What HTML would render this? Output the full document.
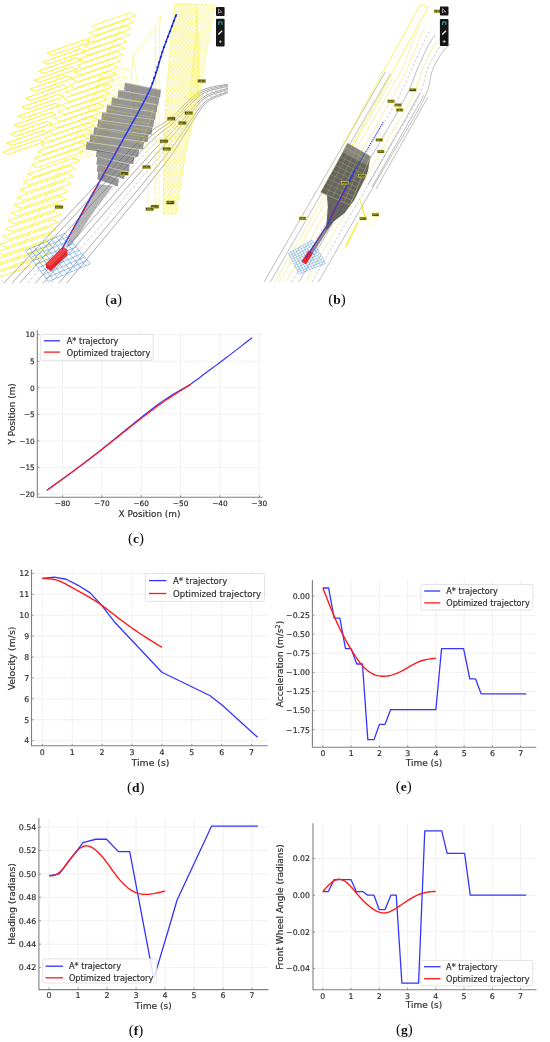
<!DOCTYPE html>
<html><head><meta charset="utf-8"><title>Trajectory figure</title>
<style>html,body{margin:0;padding:0;background:#fff;}svg{display:block;}</style></head>
<body><svg width="550" height="1042" viewBox="0 0 550 1042">
<rect width="550" height="1042" fill="#ffffff"/>
<g id="pa"><path d="M47 53 L85 39.7 L90 42.1 L52 55.4Z" fill="none" stroke="#f7ee00" stroke-width="0.9" opacity="0.9" /><path d="M42.8 62 L80.6 48.8 L85.6 51.2 L47.8 64.4Z" fill="none" stroke="#f7ee00" stroke-width="0.9" opacity="0.9" /><path d="M38.6 71 L76.2 57.8 L81.2 60.2 L43.6 73.4Z" fill="none" stroke="#f7ee00" stroke-width="0.9" opacity="0.9" /><path d="M34.4 80 L71.8 66.9 L76.8 69.3 L39.4 82.4Z" fill="none" stroke="#f7ee00" stroke-width="0.9" opacity="0.9" /><path d="M30.1 89 L67.4 76 L72.4 78.4 L35.1 91.4Z" fill="none" stroke="#f7ee00" stroke-width="0.9" opacity="0.9" /><path d="M25.9 98 L63 85 L68 87.4 L30.9 100.4Z" fill="none" stroke="#f7ee00" stroke-width="0.9" opacity="0.9" /><path d="M22 107 L58.9 94.1 L63.9 96.5 L27 109.4Z" fill="none" stroke="#f7ee00" stroke-width="0.9" opacity="0.9" /><path d="M18.2 116 L55 103.1 L60 105.5 L23.2 118.4Z" fill="none" stroke="#f7ee00" stroke-width="0.9" opacity="0.9" /><path d="M14.4 125 L51 112.2 L56 114.6 L19.4 127.4Z" fill="none" stroke="#f7ee00" stroke-width="0.9" opacity="0.9" /><path d="M10.6 134 L47 121.3 L52 123.7 L15.6 136.4Z" fill="none" stroke="#f7ee00" stroke-width="0.9" opacity="0.9" /><path d="M6.8 143 L43 130.3 L48 132.7 L11.8 145.4Z" fill="none" stroke="#f7ee00" stroke-width="0.9" opacity="0.9" /><path d="M3 152 L39 139.4 L44 141.8 L8 154.4Z" fill="none" stroke="#f7ee00" stroke-width="0.9" opacity="0.9" /><path d="M92 26 L130 12.7 L136 15.7 L98 29Z" fill="none" stroke="#f7ee00" stroke-width="0.8" opacity="0.8" /><path d="M89.4 32.6 L127.8 19.2 L133.8 22.2 L95.4 35.6Z" fill="none" stroke="#f7ee00" stroke-width="0.8" opacity="0.8" /><path d="M86.8 39.2 L125.6 25.6 L131.6 28.6 L92.8 42.2Z" fill="none" stroke="#f7ee00" stroke-width="0.8" opacity="0.8" /><path d="M84.3 45.8 L123.4 32.1 L129.4 35.1 L90.3 48.8Z" fill="none" stroke="#f7ee00" stroke-width="0.8" opacity="0.8" /><path d="M81.7 52.4 L121.2 38.6 L127.2 41.6 L87.7 55.4Z" fill="none" stroke="#f7ee00" stroke-width="0.8" opacity="0.8" /><path d="M79.1 59 L119 45.1 L125 48.1 L85.1 62Z" fill="none" stroke="#f7ee00" stroke-width="0.8" opacity="0.8" /><path d="M76.5 65.6 L116.8 51.5 L122.8 54.5 L82.5 68.6Z" fill="none" stroke="#f7ee00" stroke-width="0.8" opacity="0.8" /><path d="M74 72.2 L114.6 58 L120.6 61 L80 75.2Z" fill="none" stroke="#f7ee00" stroke-width="0.8" opacity="0.8" /><path d="M71.4 78.8 L112.4 64.5 L118.4 67.5 L77.4 81.8Z" fill="none" stroke="#f7ee00" stroke-width="0.8" opacity="0.8" /><path d="M68.8 85.4 L110.2 70.9 L116.2 73.9 L74.8 88.4Z" fill="none" stroke="#f7ee00" stroke-width="0.8" opacity="0.8" /><path d="M66.2 92 L108.1 77.4 L114.1 80.4 L72.2 95Z" fill="none" stroke="#f7ee00" stroke-width="0.8" opacity="0.8" /><path d="M63.7 98.6 L105.9 83.9 L111.9 86.9 L69.7 101.6Z" fill="none" stroke="#f7ee00" stroke-width="0.8" opacity="0.8" /><path d="M61.1 105.2 L103.7 90.4 L109.7 93.4 L67.1 108.2Z" fill="none" stroke="#f7ee00" stroke-width="0.8" opacity="0.8" /><path d="M58 111.8 L101 96.8 L107 99.8 L64 114.8Z" fill="none" stroke="#f7ee00" stroke-width="0.8" opacity="0.8" /><path d="M54.6 118.4 L98 103.3 L104 106.3 L60.6 121.4Z" fill="none" stroke="#f7ee00" stroke-width="0.8" opacity="0.8" /><path d="M51.2 125 L94.9 109.8 L100.9 112.8 L57.2 128Z" fill="none" stroke="#f7ee00" stroke-width="0.8" opacity="0.8" /><path d="M47.8 131.6 L91.9 116.2 L97.9 119.2 L53.8 134.6Z" fill="none" stroke="#f7ee00" stroke-width="0.8" opacity="0.8" /><path d="M44.4 138.2 L88.8 122.7 L94.8 125.7 L50.4 141.2Z" fill="none" stroke="#f7ee00" stroke-width="0.8" opacity="0.8" /><path d="M41 144.8 L85.8 129.2 L91.8 132.2 L47 147.8Z" fill="none" stroke="#f7ee00" stroke-width="0.8" opacity="0.8" /><path d="M37.5 151.4 L82.8 135.7 L88.8 138.7 L43.5 154.4Z" fill="none" stroke="#f7ee00" stroke-width="0.8" opacity="0.8" /><path d="M34.4 158 L80.1 142.1 L86.1 145.1 L40.4 161Z" fill="none" stroke="#f7ee00" stroke-width="0.8" opacity="0.8" /><path d="M31.5 164.6 L77.5 148.6 L83.5 151.6 L37.5 167.6Z" fill="none" stroke="#f7ee00" stroke-width="0.8" opacity="0.8" /><path d="M28 174 L74 158 L80 161 L34 177Z" fill="none" stroke="#f7ee00" stroke-width="0.8" opacity="0.85" /><path d="M23.3 181.8 L69.8 165.6 L75.8 168.6 L29.3 184.8Z" fill="none" stroke="#f7ee00" stroke-width="0.8" opacity="0.85" /><path d="M20.3 189.6 L67.3 173.3 L73.3 176.3 L26.3 192.6Z" fill="none" stroke="#f7ee00" stroke-width="0.8" opacity="0.85" /><path d="M17.4 197.4 L64.8 180.9 L70.8 183.9 L23.4 200.4Z" fill="none" stroke="#f7ee00" stroke-width="0.8" opacity="0.85" /><path d="M14.4 205.2 L62.3 188.6 L68.3 191.6 L20.4 208.2Z" fill="none" stroke="#f7ee00" stroke-width="0.8" opacity="0.85" /><path d="M11.5 213 L59.8 196.2 L65.8 199.2 L17.5 216Z" fill="none" stroke="#f7ee00" stroke-width="0.8" opacity="0.85" /><path d="M8.5 220.8 L57.3 203.9 L63.3 206.9 L14.5 223.8Z" fill="none" stroke="#f7ee00" stroke-width="0.8" opacity="0.85" /><path d="M5.5 228.6 L54.8 211.5 L60.8 214.5 L11.5 231.6Z" fill="none" stroke="#f7ee00" stroke-width="0.8" opacity="0.85" /><path d="M2.8 236.4 L52.5 219.2 L58.5 222.2 L8.8 239.4Z" fill="none" stroke="#f7ee00" stroke-width="0.8" opacity="0.85" /><path d="M0.2 244.2 L50.3 226.8 L56.3 229.8 L6.2 247.2Z" fill="none" stroke="#f7ee00" stroke-width="0.8" opacity="0.85" /><path d="M-2.5 252 L48.1 234.5 L54.1 237.5 L3.5 255Z" fill="none" stroke="#f7ee00" stroke-width="0.8" opacity="0.85" /><path d="M-5.1 259.8 L45.9 242.1 L51.9 245.1 L0.9 262.8Z" fill="none" stroke="#f7ee00" stroke-width="0.8" opacity="0.85" /><path d="M-7.8 267.6 L43.8 249.8 L49.8 252.8 L-1.8 270.6Z" fill="none" stroke="#f7ee00" stroke-width="0.8" opacity="0.85" /><path d="M-10.4 275.4 L41.6 257.4 L47.6 260.4 L-4.4 278.4Z" fill="none" stroke="#f7ee00" stroke-width="0.8" opacity="0.85" /><path d="M98 78 L126 68 L130 70 L102 80Z" fill="none" stroke="#f5ef1a" stroke-width="0.6" opacity="0.7" /><path d="M95.5 86 L123.5 76 L127.5 78 L99.5 88Z" fill="none" stroke="#f5ef1a" stroke-width="0.6" opacity="0.7" /><path d="M93 94 L121 84 L125 86 L97 96Z" fill="none" stroke="#f5ef1a" stroke-width="0.6" opacity="0.7" /><path d="M90.6 102 L118.6 92 L122.6 94 L94.6 104Z" fill="none" stroke="#f5ef1a" stroke-width="0.6" opacity="0.7" /><path d="M88.1 110 L116.1 100 L120.1 102 L92.1 112Z" fill="none" stroke="#f5ef1a" stroke-width="0.6" opacity="0.7" /><path d="M85.6 118 L113.6 108 L117.6 110 L89.6 120Z" fill="none" stroke="#f5ef1a" stroke-width="0.6" opacity="0.7" /><path d="M83 126 L111 116 L115 118 L87 128Z" fill="none" stroke="#f5ef1a" stroke-width="0.6" opacity="0.7" /><path d="M80.5 134 L108.5 124 L112.5 126 L84.5 136Z" fill="none" stroke="#f5ef1a" stroke-width="0.6" opacity="0.7" /><path d="M77.8 142 L105.8 132 L109.8 134 L81.8 144Z" fill="none" stroke="#f5ef1a" stroke-width="0.6" opacity="0.7" /><path d="M75.2 150 L103.2 140 L107.2 142 L79.2 152Z" fill="none" stroke="#f5ef1a" stroke-width="0.6" opacity="0.7" /><path d="M72.7 158 L100.7 148 L104.7 150 L76.7 160Z" fill="none" stroke="#f5ef1a" stroke-width="0.6" opacity="0.7" /><path d="M128 13 L110 50 L100 80 L88 110 L70 150 L50 190 L30 230 L12 270" fill="none" stroke="#f5ef1a" stroke-width="0.6" opacity="0.7" /><path d="M84 40 L60 75 L35 110 L10 150" fill="none" stroke="#f5ef1a" stroke-width="0.6" opacity="0.7" /><path d="M105 20 L84 60 L60 100 L45 140 L25 180 L8 220" fill="none" stroke="#f5ef1a" stroke-width="0.5" opacity="0.6" /><path d="M4 283C46 238.7 102.2 177.5 130 150C157.8 122.5 161 126.5 171 118C181 109.5 184.3 103.8 190 99C195.7 94.2 198.7 91.5 205 89C211.3 86.5 220.3 85.7 228 84" fill="none" stroke="#666666" stroke-width="0.55"/><path d="M11.9 283C52.5 239.5 106.9 179.7 133.8 152.5C160.6 125.3 163.4 128.3 172.9 119.8C182.4 111.2 185.5 105.8 190.9 101C196.3 96.1 199.2 93.2 205.4 90.6C211.6 87.9 220.5 86.9 228 85.1" fill="none" stroke="#666666" stroke-width="0.55"/><path d="M19.8 283C59 240.3 111.7 181.9 137.5 155C163.3 128.1 165.7 130.2 174.8 121.5C183.8 112.8 186.6 107.8 191.8 102.9C196.9 98 199.7 94.9 205.8 92.1C211.8 89.3 220.6 88.1 228 86.2" fill="none" stroke="#666666" stroke-width="0.55"/><path d="M27.6 283C65.5 241.2 116.4 184.1 141.2 157.5C166.1 130.9 168.1 132 176.6 123.2C185.2 114.5 187.7 109.8 192.6 104.9C197.5 100 200.2 96.6 206.1 93.7C212 90.7 220.7 89.4 228 87.2" fill="none" stroke="#a8a8a8" stroke-width="0.55" stroke-dasharray="3 2"/><path d="M35.5 283C72 242 121.2 186.3 145 160C168.8 133.7 170.4 133.9 178.5 125C186.6 116.1 188.8 111.8 193.5 106.8C198.2 101.9 200.8 98.3 206.5 95.2C212.2 92.2 220.8 90.6 228 88.3" fill="none" stroke="#666666" stroke-width="0.55"/><path d="M43.4 283C78.5 242.8 125.9 188.5 148.8 162.5C171.6 136.5 172.8 135.7 180.4 126.8C188 117.8 190 113.8 194.4 108.8C198.8 103.8 201.3 100.1 206.9 96.8C212.5 93.6 221 91.9 228 89.4" fill="none" stroke="#666666" stroke-width="0.55"/><path d="M51.2 283C85 243.7 130.7 190.8 152.5 165C174.3 139.2 175.1 137.5 182.2 128.5C189.4 119.5 191.1 115.8 195.2 110.8C199.4 105.8 201.8 101.8 207.2 98.4C212.7 95 221.1 93.1 228 90.4" fill="none" stroke="#a8a8a8" stroke-width="0.55" stroke-dasharray="3 2"/><path d="M59.1 283C91.5 244.5 135.4 193 156.2 167.5C177.1 142 177.5 139.4 184.1 130.2C190.8 121.1 192.2 117.8 196.1 112.7C200 107.7 202.3 103.5 207.6 99.9C212.9 96.4 221.2 94.3 228 91.5" fill="none" stroke="#666666" stroke-width="0.55"/><path d="M67 283C98 245.3 140.2 195.2 160 170C179.8 144.8 179.8 141.2 186 132C192.2 122.8 193.3 119.8 197 114.7C200.7 109.6 202.8 105.2 208 101.5C213.2 97.8 221.3 95.6 228 92.6" fill="none" stroke="#666666" stroke-width="0.55"/><clipPath id="t1"><path d="M175 4 L170 50 L166 100 L164 150 L163 214 L176 214 L186 150 L198 100 L199 50 L196 4Z"/></clipPath><path d="M175 4 L170 50 L166 100 L164 150 L163 214 L176 214 L186 150 L198 100 L199 50 L196 4Z" fill="#fffbb8" opacity="0.15"/><path d="M161 -262L201 -212M161 -262L201 -312M161 -257.2L201 -207.2M161 -257.2L201 -307.2M161 -252.4L201 -202.4M161 -252.4L201 -302.4M161 -247.6L201 -197.6M161 -247.6L201 -297.6M161 -242.8L201 -192.8M161 -242.8L201 -292.8M161 -238L201 -188M161 -238L201 -288M161 -233.2L201 -183.2M161 -233.2L201 -283.2M161 -228.4L201 -178.4M161 -228.4L201 -278.4M161 -223.6L201 -173.6M161 -223.6L201 -273.6M161 -218.8L201 -168.8M161 -218.8L201 -268.8M161 -214L201 -164M161 -214L201 -264M161 -209.2L201 -159.2M161 -209.2L201 -259.2M161 -204.4L201 -154.4M161 -204.4L201 -254.4M161 -199.6L201 -149.6M161 -199.6L201 -249.6M161 -194.8L201 -144.8M161 -194.8L201 -244.8M161 -190L201 -140M161 -190L201 -240M161 -185.2L201 -135.2M161 -185.2L201 -235.2M161 -180.4L201 -130.4M161 -180.4L201 -230.4M161 -175.6L201 -125.6M161 -175.6L201 -225.6M161 -170.8L201 -120.8M161 -170.8L201 -220.8M161 -166L201 -116M161 -166L201 -216M161 -161.2L201 -111.2M161 -161.2L201 -211.2M161 -156.4L201 -106.4M161 -156.4L201 -206.4M161 -151.6L201 -101.6M161 -151.6L201 -201.6M161 -146.8L201 -96.8M161 -146.8L201 -196.8M161 -142L201 -92M161 -142L201 -192M161 -137.2L201 -87.2M161 -137.2L201 -187.2M161 -132.4L201 -82.4M161 -132.4L201 -182.4M161 -127.6L201 -77.6M161 -127.6L201 -177.6M161 -122.8L201 -72.8M161 -122.8L201 -172.8M161 -118L201 -68M161 -118L201 -168M161 -113.2L201 -63.2M161 -113.2L201 -163.2M161 -108.4L201 -58.4M161 -108.4L201 -158.4M161 -103.6L201 -53.6M161 -103.6L201 -153.6M161 -98.8L201 -48.8M161 -98.8L201 -148.8M161 -94L201 -44M161 -94L201 -144M161 -89.2L201 -39.2M161 -89.2L201 -139.2M161 -84.4L201 -34.4M161 -84.4L201 -134.4M161 -79.6L201 -29.6M161 -79.6L201 -129.6M161 -74.8L201 -24.8M161 -74.8L201 -124.8M161 -70L201 -20M161 -70L201 -120M161 -65.2L201 -15.2M161 -65.2L201 -115.2M161 -60.4L201 -10.4M161 -60.4L201 -110.4M161 -55.6L201 -5.6M161 -55.6L201 -105.6M161 -50.8L201 -0.8M161 -50.8L201 -100.8M161 -46L201 4M161 -46L201 -96M161 -41.2L201 8.8M161 -41.2L201 -91.2M161 -36.4L201 13.6M161 -36.4L201 -86.4M161 -31.6L201 18.4M161 -31.6L201 -81.6M161 -26.8L201 23.2M161 -26.8L201 -76.8M161 -22L201 28M161 -22L201 -72M161 -17.2L201 32.8M161 -17.2L201 -67.2M161 -12.4L201 37.6M161 -12.4L201 -62.4M161 -7.6L201 42.4M161 -7.6L201 -57.6M161 -2.8L201 47.2M161 -2.8L201 -52.8M161 2L201 52M161 2L201 -48M161 6.8L201 56.8M161 6.8L201 -43.2M161 11.6L201 61.6M161 11.6L201 -38.4M161 16.4L201 66.4M161 16.4L201 -33.6M161 21.2L201 71.2M161 21.2L201 -28.8M161 26L201 76M161 26L201 -24M161 30.8L201 80.8M161 30.8L201 -19.2M161 35.6L201 85.6M161 35.6L201 -14.4M161 40.4L201 90.4M161 40.4L201 -9.6M161 45.2L201 95.2M161 45.2L201 -4.8M161 50L201 100M161 50L201 0M161 54.8L201 104.8M161 54.8L201 4.8M161 59.6L201 109.6M161 59.6L201 9.6M161 64.4L201 114.4M161 64.4L201 14.4M161 69.2L201 119.2M161 69.2L201 19.2M161 74L201 124M161 74L201 24M161 78.8L201 128.8M161 78.8L201 28.8M161 83.6L201 133.6M161 83.6L201 33.6M161 88.4L201 138.4M161 88.4L201 38.4M161 93.2L201 143.2M161 93.2L201 43.2M161 98L201 148M161 98L201 48M161 102.8L201 152.8M161 102.8L201 52.8M161 107.6L201 157.6M161 107.6L201 57.6M161 112.4L201 162.4M161 112.4L201 62.4M161 117.2L201 167.2M161 117.2L201 67.2M161 122L201 172M161 122L201 72M161 126.8L201 176.8M161 126.8L201 76.8M161 131.6L201 181.6M161 131.6L201 81.6M161 136.4L201 186.4M161 136.4L201 86.4M161 141.2L201 191.2M161 141.2L201 91.2M161 146L201 196M161 146L201 96M161 150.8L201 200.8M161 150.8L201 100.8M161 155.6L201 205.6M161 155.6L201 105.6M161 160.4L201 210.4M161 160.4L201 110.4M161 165.2L201 215.2M161 165.2L201 115.2M161 170L201 220M161 170L201 120M161 174.8L201 224.8M161 174.8L201 124.8M161 179.6L201 229.6M161 179.6L201 129.6M161 184.4L201 234.4M161 184.4L201 134.4M161 189.2L201 239.2M161 189.2L201 139.2M161 194L201 244M161 194L201 144M161 198.8L201 248.8M161 198.8L201 148.8M161 203.6L201 253.6M161 203.6L201 153.6M161 208.4L201 258.4M161 208.4L201 158.4M161 213.2L201 263.2M161 213.2L201 163.2M161 218L201 268M161 218L201 168M161 222.8L201 272.8M161 222.8L201 172.8M161 227.6L201 277.6M161 227.6L201 177.6M161 232.4L201 282.4M161 232.4L201 182.4M161 237.2L201 287.2M161 237.2L201 187.2M161 242L201 292M161 242L201 192M161 246.8L201 296.8M161 246.8L201 196.8M161 251.6L201 301.6M161 251.6L201 201.6M161 256.4L201 306.4M161 256.4L201 206.4M161 261.2L201 311.2M161 261.2L201 211.2M161 266L201 316M161 266L201 216M161 270.8L201 320.8M161 270.8L201 220.8M161 275.6L201 325.6M161 275.6L201 225.6M161 280.4L201 330.4M161 280.4L201 230.4M161 285.2L201 335.2M161 285.2L201 235.2M161 290L201 340M161 290L201 240M161 294.8L201 344.8M161 294.8L201 244.8M161 299.6L201 349.6M161 299.6L201 249.6M161 304.4L201 354.4M161 304.4L201 254.4M161 309.2L201 359.2M161 309.2L201 259.2M161 314L201 364M161 314L201 264M161 318.8L201 368.8M161 318.8L201 268.8M161 323.6L201 373.6M161 323.6L201 273.6M161 328.4L201 378.4M161 328.4L201 278.4M161 333.2L201 383.2M161 333.2L201 283.2M161 338L201 388M161 338L201 288M161 342.8L201 392.8M161 342.8L201 292.8M161 347.6L201 397.6M161 347.6L201 297.6M161 352.4L201 402.4M161 352.4L201 302.4M161 357.2L201 407.2M161 357.2L201 307.2M161 362L201 412M161 362L201 312M161 366.8L201 416.8M161 366.8L201 316.8M161 371.6L201 421.6M161 371.6L201 321.6M161 376.4L201 426.4M161 376.4L201 326.4M161 381.2L201 431.2M161 381.2L201 331.2M161 386L201 436M161 386L201 336M161 390.8L201 440.8M161 390.8L201 340.8M161 395.6L201 445.6M161 395.6L201 345.6M161 400.4L201 450.4M161 400.4L201 350.4M161 405.2L201 455.2M161 405.2L201 355.2M161 410L201 460M161 410L201 360M161 414.8L201 464.8M161 414.8L201 364.8M161 419.6L201 469.6M161 419.6L201 369.6M161 424.4L201 474.4M161 424.4L201 374.4M161 429.2L201 479.2M161 429.2L201 379.2M161 434L201 484M161 434L201 384M161 438.8L201 488.8M161 438.8L201 388.8M161 443.6L201 493.6M161 443.6L201 393.6M161 448.4L201 498.4M161 448.4L201 398.4M161 453.2L201 503.2M161 453.2L201 403.2M161 458L201 508M161 458L201 408M161 462.8L201 512.8M161 462.8L201 412.8M161 467.6L201 517.6M161 467.6L201 417.6M161 472.4L201 522.4M161 472.4L201 422.4M161 477.2L201 527.2M161 477.2L201 427.2" clip-path="url(#t1)" fill="none" stroke="#f5ee10" stroke-width="0.6" opacity="0.7"/><path d="M175 4 L170 50 L166 100 L164 150 L163 214 L176 214 L186 150 L198 100 L199 50 L196 4Z" fill="none" stroke="#f5ee10" stroke-width="0.6" opacity="0.7"/><clipPath id="t2"><path d="M198 4 L215 5 L205 60 L200 100 L190 100 L194 50Z"/></clipPath><path d="M198 4 L215 5 L205 60 L200 100 L190 100 L194 50Z" fill="#fffbc8" opacity="0.1"/><path d="M188 -134.2L217 -98M188 -134.2L217 -170.5M188 -129.8L217 -93.5M188 -129.8L217 -166M188 -125.2L217 -89M188 -125.2L217 -161.5M188 -120.8L217 -84.5M188 -120.8L217 -157M188 -116.2L217 -80M188 -116.2L217 -152.5M188 -111.8L217 -75.5M188 -111.8L217 -148M188 -107.2L217 -71M188 -107.2L217 -143.5M188 -102.8L217 -66.5M188 -102.8L217 -139M188 -98.2L217 -62M188 -98.2L217 -134.5M188 -93.8L217 -57.5M188 -93.8L217 -130M188 -89.2L217 -53M188 -89.2L217 -125.5M188 -84.8L217 -48.5M188 -84.8L217 -121M188 -80.2L217 -44M188 -80.2L217 -116.5M188 -75.8L217 -39.5M188 -75.8L217 -112M188 -71.2L217 -35M188 -71.2L217 -107.5M188 -66.8L217 -30.5M188 -66.8L217 -103M188 -62.2L217 -26M188 -62.2L217 -98.5M188 -57.8L217 -21.5M188 -57.8L217 -94M188 -53.2L217 -17M188 -53.2L217 -89.5M188 -48.8L217 -12.5M188 -48.8L217 -85M188 -44.2L217 -8M188 -44.2L217 -80.5M188 -39.8L217 -3.5M188 -39.8L217 -76M188 -35.2L217 1M188 -35.2L217 -71.5M188 -30.8L217 5.5M188 -30.8L217 -67M188 -26.2L217 10M188 -26.2L217 -62.5M188 -21.8L217 14.5M188 -21.8L217 -58M188 -17.2L217 19M188 -17.2L217 -53.5M188 -12.8L217 23.5M188 -12.8L217 -49M188 -8.2L217 28M188 -8.2L217 -44.5M188 -3.8L217 32.5M188 -3.8L217 -40M188 0.8L217 37M188 0.8L217 -35.5M188 5.2L217 41.5M188 5.2L217 -31M188 9.8L217 46M188 9.8L217 -26.5M188 14.2L217 50.5M188 14.2L217 -22M188 18.8L217 55M188 18.8L217 -17.5M188 23.2L217 59.5M188 23.2L217 -13M188 27.8L217 64M188 27.8L217 -8.5M188 32.2L217 68.5M188 32.2L217 -4M188 36.8L217 73M188 36.8L217 0.5M188 41.2L217 77.5M188 41.2L217 5M188 45.8L217 82M188 45.8L217 9.5M188 50.2L217 86.5M188 50.2L217 14M188 54.8L217 91M188 54.8L217 18.5M188 59.2L217 95.5M188 59.2L217 23M188 63.8L217 100M188 63.8L217 27.5M188 68.2L217 104.5M188 68.2L217 32M188 72.8L217 109M188 72.8L217 36.5M188 77.2L217 113.5M188 77.2L217 41M188 81.8L217 118M188 81.8L217 45.5M188 86.2L217 122.5M188 86.2L217 50M188 90.8L217 127M188 90.8L217 54.5M188 95.2L217 131.5M188 95.2L217 59M188 99.8L217 136M188 99.8L217 63.5M188 104.2L217 140.5M188 104.2L217 68M188 108.8L217 145M188 108.8L217 72.5M188 113.2L217 149.5M188 113.2L217 77M188 117.8L217 154M188 117.8L217 81.5M188 122.2L217 158.5M188 122.2L217 86M188 126.8L217 163M188 126.8L217 90.5M188 131.2L217 167.5M188 131.2L217 95M188 135.8L217 172M188 135.8L217 99.5M188 140.2L217 176.5M188 140.2L217 104M188 144.8L217 181M188 144.8L217 108.5M188 149.2L217 185.5M188 149.2L217 113M188 153.8L217 190M188 153.8L217 117.5M188 158.2L217 194.5M188 158.2L217 122M188 162.8L217 199M188 162.8L217 126.5M188 167.2L217 203.5M188 167.2L217 131M188 171.8L217 208M188 171.8L217 135.5M188 176.2L217 212.5M188 176.2L217 140M188 180.8L217 217M188 180.8L217 144.5M188 185.2L217 221.5M188 185.2L217 149M188 189.8L217 226M188 189.8L217 153.5M188 194.2L217 230.5M188 194.2L217 158M188 198.8L217 235M188 198.8L217 162.5M188 203.2L217 239.5M188 203.2L217 167M188 207.8L217 244M188 207.8L217 171.5M188 212.2L217 248.5M188 212.2L217 176M188 216.8L217 253M188 216.8L217 180.5M188 221.2L217 257.5M188 221.2L217 185M188 225.8L217 262M188 225.8L217 189.5M188 230.2L217 266.5M188 230.2L217 194M188 234.8L217 271M188 234.8L217 198.5" clip-path="url(#t2)" fill="none" stroke="#f5ee10" stroke-width="0.5" opacity="0.6"/><path d="M198 4 L215 5 L205 60 L200 100 L190 100 L194 50Z" fill="none" stroke="#f5ee10" stroke-width="0.5" opacity="0.6"/><path d="M161 16 L155.3 26 L155.3 205" fill="none" stroke="#f5ef1a" stroke-width="0.6" opacity="0.8" /><path d="M161 16 L159.5 26 L159 205" fill="none" stroke="#f5ef1a" stroke-width="0.5" opacity="0.7" /><path d="M133 56 L155.3 26" fill="none" stroke="#f5ef1a" stroke-width="0.6" opacity="0.75" /><path d="M136 56 L159.5 26" fill="none" stroke="#f5ef1a" stroke-width="0.4" opacity="0.5" /><path d="M155.3 30 L159.5 30" fill="none" stroke="#f5ef1a" stroke-width="0.4" opacity="0.65" /><path d="M155.3 35.8 L159.5 35.8" fill="none" stroke="#f5ef1a" stroke-width="0.4" opacity="0.65" /><path d="M155.3 41.7 L159.5 41.7" fill="none" stroke="#f5ef1a" stroke-width="0.4" opacity="0.65" /><path d="M155.3 47.5 L159.4 47.5" fill="none" stroke="#f5ef1a" stroke-width="0.4" opacity="0.65" /><path d="M155.3 53.3 L159.4 53.3" fill="none" stroke="#f5ef1a" stroke-width="0.4" opacity="0.65" /><path d="M155.3 59.2 L159.4 59.2" fill="none" stroke="#f5ef1a" stroke-width="0.4" opacity="0.65" /><path d="M155.3 65 L159.4 65" fill="none" stroke="#f5ef1a" stroke-width="0.4" opacity="0.65" /><path d="M155.3 70.8 L159.4 70.8" fill="none" stroke="#f5ef1a" stroke-width="0.4" opacity="0.65" /><path d="M155.3 76.7 L159.4 76.7" fill="none" stroke="#f5ef1a" stroke-width="0.4" opacity="0.65" /><path d="M155.3 82.5 L159.3 82.5" fill="none" stroke="#f5ef1a" stroke-width="0.4" opacity="0.65" /><path d="M155.3 88.3 L159.3 88.3" fill="none" stroke="#f5ef1a" stroke-width="0.4" opacity="0.65" /><path d="M155.3 94.2 L159.3 94.2" fill="none" stroke="#f5ef1a" stroke-width="0.4" opacity="0.65" /><path d="M155.3 100 L159.3 100" fill="none" stroke="#f5ef1a" stroke-width="0.4" opacity="0.65" /><path d="M155.3 105.8 L159.3 105.8" fill="none" stroke="#f5ef1a" stroke-width="0.4" opacity="0.65" /><path d="M155.3 111.7 L159.3 111.7" fill="none" stroke="#f5ef1a" stroke-width="0.4" opacity="0.65" /><path d="M155.3 117.5 L159.2 117.5" fill="none" stroke="#f5ef1a" stroke-width="0.4" opacity="0.65" /><path d="M155.3 123.3 L159.2 123.3" fill="none" stroke="#f5ef1a" stroke-width="0.4" opacity="0.65" /><path d="M155.3 129.2 L159.2 129.2" fill="none" stroke="#f5ef1a" stroke-width="0.4" opacity="0.65" /><path d="M155.3 135 L159.2 135" fill="none" stroke="#f5ef1a" stroke-width="0.4" opacity="0.65" /><path d="M155.3 140.8 L159.2 140.8" fill="none" stroke="#f5ef1a" stroke-width="0.4" opacity="0.65" /><path d="M155.3 146.7 L159.2 146.7" fill="none" stroke="#f5ef1a" stroke-width="0.4" opacity="0.65" /><path d="M155.3 152.5 L159.2 152.5" fill="none" stroke="#f5ef1a" stroke-width="0.4" opacity="0.65" /><path d="M155.3 158.3 L159.1 158.3" fill="none" stroke="#f5ef1a" stroke-width="0.4" opacity="0.65" /><path d="M155.3 164.2 L159.1 164.2" fill="none" stroke="#f5ef1a" stroke-width="0.4" opacity="0.65" /><path d="M155.3 170 L159.1 170" fill="none" stroke="#f5ef1a" stroke-width="0.4" opacity="0.65" /><path d="M155.3 175.8 L159.1 175.8" fill="none" stroke="#f5ef1a" stroke-width="0.4" opacity="0.65" /><path d="M155.3 181.7 L159.1 181.7" fill="none" stroke="#f5ef1a" stroke-width="0.4" opacity="0.65" /><path d="M155.3 187.5 L159.1 187.5" fill="none" stroke="#f5ef1a" stroke-width="0.4" opacity="0.65" /><path d="M155.3 193.3 L159 193.3" fill="none" stroke="#f5ef1a" stroke-width="0.4" opacity="0.65" /><path d="M155.3 199.2 L159 199.2" fill="none" stroke="#f5ef1a" stroke-width="0.4" opacity="0.65" /><path d="M155.3 205 L159 205" fill="none" stroke="#f5ef1a" stroke-width="0.4" opacity="0.65" /><path d="M158 110 L146.5 130 L148 205" fill="none" stroke="#f5ef1a" stroke-width="0.5" opacity="0.7" /><path d="M133 55 L131 80 L137 141" fill="none" stroke="#f5ef1a" stroke-width="0.6" opacity="0.75" /><path d="M133 55 L137 80 L141 141" fill="none" stroke="#f5ef1a" stroke-width="0.5" opacity="0.7" /><path d="M131 80 L137 80" fill="none" stroke="#f5ef1a" stroke-width="0.4" opacity="0.65" /><path d="M131.5 85.1 L137.3 85.1" fill="none" stroke="#f5ef1a" stroke-width="0.4" opacity="0.65" /><path d="M132 90.2 L137.7 90.2" fill="none" stroke="#f5ef1a" stroke-width="0.4" opacity="0.65" /><path d="M132.5 95.2 L138 95.2" fill="none" stroke="#f5ef1a" stroke-width="0.4" opacity="0.65" /><path d="M133 100.3 L138.3 100.3" fill="none" stroke="#f5ef1a" stroke-width="0.4" opacity="0.65" /><path d="M133.5 105.4 L138.7 105.4" fill="none" stroke="#f5ef1a" stroke-width="0.4" opacity="0.65" /><path d="M134 110.5 L139 110.5" fill="none" stroke="#f5ef1a" stroke-width="0.4" opacity="0.65" /><path d="M134.5 115.6 L139.3 115.6" fill="none" stroke="#f5ef1a" stroke-width="0.4" opacity="0.65" /><path d="M135 120.7 L139.7 120.7" fill="none" stroke="#f5ef1a" stroke-width="0.4" opacity="0.65" /><path d="M135.5 125.8 L140 125.8" fill="none" stroke="#f5ef1a" stroke-width="0.4" opacity="0.65" /><path d="M136 130.8 L140.3 130.8" fill="none" stroke="#f5ef1a" stroke-width="0.4" opacity="0.65" /><path d="M136.5 135.9 L140.7 135.9" fill="none" stroke="#f5ef1a" stroke-width="0.4" opacity="0.65" /><path d="M137 141 L141 141" fill="none" stroke="#f5ef1a" stroke-width="0.4" opacity="0.65" /><path d="M125 82.4 L161 89.7 L160 97.7 L124 90.4Z" fill="#555555" stroke="none" stroke-width="0.6" opacity="0.62" /><path d="M125 82.8 L161 90.1" fill="none" stroke="#cfcfcf" stroke-width="0.9" opacity="0.85" /><path d="M118.5 89.8 L159.4 97.1 L158.4 105.1 L117.5 97.8Z" fill="#555555" stroke="none" stroke-width="0.6" opacity="0.62" /><path d="M118.5 90.2 L159.4 97.5" fill="none" stroke="#cfcfcf" stroke-width="0.9" opacity="0.85" /><path d="M112.1 97.2 L157.7 104.5 L156.7 112.5 L111.1 105.2Z" fill="#555555" stroke="none" stroke-width="0.6" opacity="0.62" /><path d="M112.1 97.6 L157.7 104.9" fill="none" stroke="#cfcfcf" stroke-width="0.9" opacity="0.85" /><path d="M107.2 104.6 L156 111.9 L155 119.9 L106.2 112.6Z" fill="#555555" stroke="none" stroke-width="0.6" opacity="0.62" /><path d="M107.2 105 L156 112.3" fill="none" stroke="#cfcfcf" stroke-width="0.9" opacity="0.85" /><path d="M102.3 112 L154.3 119.3 L153.3 127.3 L101.3 120Z" fill="#555555" stroke="none" stroke-width="0.6" opacity="0.62" /><path d="M102.3 112.4 L154.3 119.7" fill="none" stroke="#cfcfcf" stroke-width="0.9" opacity="0.85" /><path d="M98.1 119.4 L152.5 126.7 L151.5 134.7 L97.1 127.4Z" fill="#555555" stroke="none" stroke-width="0.6" opacity="0.62" /><path d="M98.1 119.8 L152.5 127.1" fill="none" stroke="#cfcfcf" stroke-width="0.9" opacity="0.85" /><path d="M94.2 126.8 L148.7 134.1 L147.7 142.1 L93.2 134.8Z" fill="#555555" stroke="none" stroke-width="0.6" opacity="0.62" /><path d="M94.2 127.2 L148.7 134.5" fill="none" stroke="#cfcfcf" stroke-width="0.9" opacity="0.85" /><path d="M90.4 134.2 L144 141.5 L143 149.5 L89.4 142.2Z" fill="#555555" stroke="none" stroke-width="0.6" opacity="0.62" /><path d="M90.4 134.6 L144 141.9" fill="none" stroke="#cfcfcf" stroke-width="0.9" opacity="0.85" /><path d="M86.7 141.6 L139.2 148.9 L138.2 156.9 L85.7 149.6Z" fill="#555555" stroke="none" stroke-width="0.6" opacity="0.62" /><path d="M86.7 142 L139.2 149.3" fill="none" stroke="#cfcfcf" stroke-width="0.9" opacity="0.85" /><path d="M96.9 149 L134.4 156.3 L133.4 164.3 L95.9 157Z" fill="#555555" stroke="none" stroke-width="0.6" opacity="0.62" /><path d="M96.9 149.4 L134.4 156.7" fill="none" stroke="#cfcfcf" stroke-width="0.9" opacity="0.85" /><path d="M97.3 156.4 L129.8 163.7 L128.8 171.7 L96.3 164.4Z" fill="#555555" stroke="none" stroke-width="0.6" opacity="0.62" /><path d="M97.3 156.8 L129.8 164.1" fill="none" stroke="#cfcfcf" stroke-width="0.9" opacity="0.85" /><path d="M97.7 163.8 L125.2 171.1 L124.2 179.1 L96.7 171.8Z" fill="#555555" stroke="none" stroke-width="0.6" opacity="0.62" /><path d="M97.7 164.2 L125.2 171.5" fill="none" stroke="#cfcfcf" stroke-width="0.9" opacity="0.85" /><path d="M98.2 171.2 L118.9 178.5 L117.9 186.5 L97.2 179.2Z" fill="#555555" stroke="none" stroke-width="0.6" opacity="0.62" /><path d="M98.2 171.6 L118.9 178.9" fill="none" stroke="#cfcfcf" stroke-width="0.9" opacity="0.85" /><path d="M98 184 L113 186 L95 210 L78 236 L70 246 L66 246 L80 215 L90 196Z" fill="#7a7a7a" stroke="none" stroke-width="0.6" opacity="0.55" /><path d="M112.7 96.3 L93 142" fill="none" stroke="#f5ef1a" stroke-width="0.5" opacity="0.5" /><path d="M155 104 L140 150" fill="none" stroke="#f5ef1a" stroke-width="0.5" opacity="0.5" /><path d="M112.7 96.3 L155 104" fill="none" stroke="#f5ef1a" stroke-width="0.5" opacity="0.5" /><path d="M109.9 102.8 L152.9 110.6" fill="none" stroke="#f5ef1a" stroke-width="0.5" opacity="0.5" /><path d="M107.1 109.4 L150.7 117.1" fill="none" stroke="#f5ef1a" stroke-width="0.5" opacity="0.5" /><path d="M104.3 115.9 L148.6 123.7" fill="none" stroke="#f5ef1a" stroke-width="0.5" opacity="0.5" /><path d="M101.4 122.4 L146.4 130.3" fill="none" stroke="#f5ef1a" stroke-width="0.5" opacity="0.5" /><path d="M98.6 128.9 L144.3 136.9" fill="none" stroke="#f5ef1a" stroke-width="0.5" opacity="0.5" /><path d="M95.8 135.5 L142.1 143.4" fill="none" stroke="#f5ef1a" stroke-width="0.5" opacity="0.5" /><path d="M93 142 L140 150" fill="none" stroke="#f5ef1a" stroke-width="0.5" opacity="0.5" /><path d="M25.4 250.6 L48.3 281.6" fill="none" stroke="#4f93e0" stroke-width="0.55" opacity="1.0" /><path d="M25.4 250.6 L64.9 233.3" fill="none" stroke="#4f93e0" stroke-width="0.55" opacity="1.0" /><path d="M29.8 248.7 L53 279.6" fill="none" stroke="#4f93e0" stroke-width="0.55" opacity="1.0" /><path d="M27.9 254 L67.7 236.7" fill="none" stroke="#4f93e0" stroke-width="0.55" opacity="1.0" /><path d="M34.2 246.8 L57.6 277.6" fill="none" stroke="#4f93e0" stroke-width="0.55" opacity="1.0" /><path d="M30.5 257.5 L70.5 240.1" fill="none" stroke="#4f93e0" stroke-width="0.55" opacity="1.0" /><path d="M38.6 244.8 L62.3 275.7" fill="none" stroke="#4f93e0" stroke-width="0.55" opacity="1.0" /><path d="M33 260.9 L73.4 243.5" fill="none" stroke="#4f93e0" stroke-width="0.55" opacity="1.0" /><path d="M43 242.9 L67 273.7" fill="none" stroke="#4f93e0" stroke-width="0.55" opacity="1.0" /><path d="M35.6 264.4 L76.2 246.9" fill="none" stroke="#4f93e0" stroke-width="0.55" opacity="1.0" /><path d="M47.3 241 L71.6 271.7" fill="none" stroke="#4f93e0" stroke-width="0.55" opacity="1.0" /><path d="M38.1 267.8 L79 250.2" fill="none" stroke="#4f93e0" stroke-width="0.55" opacity="1.0" /><path d="M51.7 239.1 L76.3 269.7" fill="none" stroke="#4f93e0" stroke-width="0.55" opacity="1.0" /><path d="M40.7 271.3 L81.8 253.6" fill="none" stroke="#4f93e0" stroke-width="0.55" opacity="1.0" /><path d="M56.1 237.1 L81 267.8" fill="none" stroke="#4f93e0" stroke-width="0.55" opacity="1.0" /><path d="M43.2 274.7 L84.7 257" fill="none" stroke="#4f93e0" stroke-width="0.55" opacity="1.0" /><path d="M60.5 235.2 L85.6 265.8" fill="none" stroke="#4f93e0" stroke-width="0.55" opacity="1.0" /><path d="M45.8 278.2 L87.5 260.4" fill="none" stroke="#4f93e0" stroke-width="0.55" opacity="1.0" /><path d="M64.9 233.3 L90.3 263.8" fill="none" stroke="#4f93e0" stroke-width="0.55" opacity="1.0" /><path d="M48.3 281.6 L90.3 263.8" fill="none" stroke="#4f93e0" stroke-width="0.55" opacity="1.0" /><path d="M45.8 263.8 L62.3 247.3 L67.4 249.8 L67.4 254.9 L50.9 271.2 L45.8 267.6Z" fill="#e3262b" stroke="none" stroke-width="0.6" opacity="1.0" /><path d="M45.8 263.8 L62.3 247.3 L67.4 249.8 L50.9 266.3Z" fill="#f04347" stroke="none" stroke-width="0.6" opacity="1.0" /><path d="M176.5 14C172 26 167.3 37.6 163 50C158.7 62.4 156.9 73.8 150.5 88.4C144.1 103 132.5 122.4 124.3 137.4C116.1 152.4 111.8 159.7 101.4 178.3C91 196.9 75.1 225.4 62 249" fill="none" stroke="#2a3af0" stroke-width="1.5"/><path d="M124.3 137.4C116.7 151 111.8 159.7 101.4 178.3C91 196.9 75.1 225.4 62 249" fill="none" stroke="#e8262b" stroke-width="1.0" stroke-dasharray="2.5 2.5"/><circle cx="175.8" cy="16" r="1.0" fill="#1420b0"/><circle cx="173.8" cy="21.1" r="1.0" fill="#1420b0"/><circle cx="171.9" cy="26.3" r="1.0" fill="#1420b0"/><circle cx="170" cy="31.4" r="1.0" fill="#1420b0"/><circle cx="168" cy="36.6" r="1.0" fill="#1420b0"/><circle cx="166.1" cy="41.7" r="1.0" fill="#1420b0"/><circle cx="164.2" cy="46.9" r="1.0" fill="#1420b0"/><circle cx="162.3" cy="52" r="1.0" fill="#1420b0"/><circle cx="160.7" cy="57.1" r="1.0" fill="#1420b0"/><circle cx="159" cy="62.3" r="1.0" fill="#1420b0"/><circle cx="157.3" cy="67.4" r="1.0" fill="#1420b0"/><circle cx="155.7" cy="72.6" r="1.0" fill="#1420b0"/><circle cx="154" cy="77.7" r="1.0" fill="#1420b0"/><circle cx="152.3" cy="82.9" r="1.0" fill="#1420b0"/><rect x="197.7" y="79.3" width="8" height="3.4" fill="#3a3a10" stroke="#e6e24a" stroke-width="0.5"/><text x="201.7" y="81.9" font-family="DejaVu Sans, sans-serif" font-size="2.6" fill="#e8e44a" text-anchor="middle">label</text><rect x="184.8" y="111.3" width="8" height="3.4" fill="#3a3a10" stroke="#e6e24a" stroke-width="0.5"/><text x="188.8" y="113.9" font-family="DejaVu Sans, sans-serif" font-size="2.6" fill="#e8e44a" text-anchor="middle">label</text><rect x="167.2" y="117" width="8" height="3.4" fill="#3a3a10" stroke="#e6e24a" stroke-width="0.5"/><text x="171.2" y="119.6" font-family="DejaVu Sans, sans-serif" font-size="2.6" fill="#e8e44a" text-anchor="middle">label</text><rect x="178.4" y="121.3" width="8" height="3.4" fill="#3a3a10" stroke="#e6e24a" stroke-width="0.5"/><text x="182.4" y="123.9" font-family="DejaVu Sans, sans-serif" font-size="2.6" fill="#e8e44a" text-anchor="middle">label</text><rect x="160" y="139.5" width="8" height="3.4" fill="#3a3a10" stroke="#e6e24a" stroke-width="0.5"/><text x="164" y="142.1" font-family="DejaVu Sans, sans-serif" font-size="2.6" fill="#e8e44a" text-anchor="middle">label</text><rect x="162.8" y="147.2" width="8" height="3.4" fill="#3a3a10" stroke="#e6e24a" stroke-width="0.5"/><text x="166.8" y="149.8" font-family="DejaVu Sans, sans-serif" font-size="2.6" fill="#e8e44a" text-anchor="middle">label</text><rect x="142.5" y="165.3" width="8" height="3.4" fill="#3a3a10" stroke="#e6e24a" stroke-width="0.5"/><text x="146.5" y="167.9" font-family="DejaVu Sans, sans-serif" font-size="2.6" fill="#e8e44a" text-anchor="middle">label</text><rect x="120.4" y="171.9" width="8" height="3.4" fill="#3a3a10" stroke="#e6e24a" stroke-width="0.5"/><text x="124.4" y="174.5" font-family="DejaVu Sans, sans-serif" font-size="2.6" fill="#e8e44a" text-anchor="middle">label</text><rect x="55" y="205.3" width="8" height="3.4" fill="#3a3a10" stroke="#e6e24a" stroke-width="0.5"/><text x="59" y="207.9" font-family="DejaVu Sans, sans-serif" font-size="2.6" fill="#e8e44a" text-anchor="middle">label</text><rect x="166.3" y="200.8" width="8" height="3.4" fill="#3a3a10" stroke="#e6e24a" stroke-width="0.5"/><text x="170.3" y="203.4" font-family="DejaVu Sans, sans-serif" font-size="2.6" fill="#e8e44a" text-anchor="middle">label</text><rect x="150.9" y="205" width="8" height="3.4" fill="#3a3a10" stroke="#e6e24a" stroke-width="0.5"/><text x="154.9" y="207.6" font-family="DejaVu Sans, sans-serif" font-size="2.6" fill="#e8e44a" text-anchor="middle">label</text><rect x="145.8" y="207.4" width="8" height="3.4" fill="#3a3a10" stroke="#e6e24a" stroke-width="0.5"/><text x="149.8" y="210" font-family="DejaVu Sans, sans-serif" font-size="2.6" fill="#e8e44a" text-anchor="middle">label</text><rect x="216" y="6.9" width="8.6" height="9.1" rx="1" fill="#161616"/><rect x="216" y="18.7" width="8.6" height="27.7" rx="1" fill="#161616"/><path d="M218.5 9L218.5 13.4L219.7 12.2L221.9 12.2Z" fill="none" stroke="#e0e0e0" stroke-width="0.6"/><path d="M218.7 24.9L218.7 21.9L221.9 21.9L221.9 24.9" fill="none" stroke="#3fb3c8" stroke-width="0.9"/><path d="M218.3 34.5L222.1 30.7" stroke="#e8e8e8" stroke-width="1.4"/><path d="M218.8 41.7H221.8M220.3 40.2V43.2" stroke="#e8e8e8" stroke-width="0.7"/></g>
<g id="pb"><path d="M264 282C304.4 212 344.9 142 385.3 72" fill="none" stroke="#8a8a8a" stroke-width="0.55"/><path d="M270.3 282C310.3 212.7 350.4 143.3 390.5 74" fill="none" stroke="#8a8a8a" stroke-width="0.55"/><path d="M274.8 282C314.1 214 353.4 146 392.7 78" fill="none" stroke="#ece65a" stroke-width="0.55"/><path d="M279.3 282C300.8 244.7 326.5 200.3 344 170C361.5 139.7 374.9 116.7 384.5 100C394 83.3 396.6 80 401.5 70C406.3 60 410.5 47.3 413.5 40C416.5 32.7 417.5 30.7 419.5 26" fill="none" stroke="#ece65a" stroke-width="0.55"/><path d="M285.8 282C307.3 244.7 333 200.3 350.5 170C368 139.7 381.6 116.7 391 100C400.3 83.3 402.1 79.7 406.6 70C411.2 60.3 415.3 48.8 418.3 42C421.3 35.2 422.5 33.3 424.6 29" fill="none" stroke="#ece65a" stroke-width="0.55"/><path d="M291.8 282C313.3 244.7 339 200.3 356.5 170C374 139.7 387.8 116.7 397 100C406.1 83.3 407.1 79.4 411.4 70C415.7 60.6 419.8 50.2 422.8 43.8C425.8 37.5 427.2 35.8 429.4 31.8" fill="none" stroke="#a0a0a0" stroke-width="0.55" stroke-dasharray="2.5 2"/><path d="M298.9 282C320.4 244.7 346.1 200.3 363.6 170C381.1 139.7 395.2 116.7 404.1 100C413 83.3 413 79 417 70C421 61 425 51.9 428 46C431 40.2 432.7 38.7 435 35" fill="none" stroke="#8a8a8a" stroke-width="0.55"/><path d="M305.3 282C326.8 244.7 352.5 200.3 370 170C387.5 139.7 401.8 116.7 410.5 100C419.2 83.3 418.4 78.7 422.1 70C425.9 61.3 429.8 53.3 432.8 48C435.8 42.7 437.7 41.3 440.1 38" fill="none" stroke="#ece65a" stroke-width="0.55"/><path d="M311.8 282C333.3 244.7 359 200.3 376.5 170C394 139.7 408.5 116.7 417 100C425.4 83.3 423.9 78.3 427.3 70C430.7 61.7 434.6 54.8 437.6 50C440.6 45.2 442.7 44 445.3 41" fill="none" stroke="#a0a0a0" stroke-width="0.55" stroke-dasharray="2.5 2"/><path d="M318.3 282C339.8 244.7 365.5 200.3 383 170C400.5 139.7 415.2 116.7 423.5 100C431.7 83.3 429.3 78 432.5 70C435.6 62 439.5 56.3 442.5 52C445.5 47.7 447.8 46.7 450.5 44" fill="none" stroke="#8a8a8a" stroke-width="0.55"/><path d="M420 93 L368 185" fill="none" stroke="#8a8a8a" stroke-width="0.55" opacity="1.0" /><path d="M424 95 L372 187" fill="none" stroke="#8a8a8a" stroke-width="0.55" opacity="1.0" /><path d="M428 97 L376 189" fill="none" stroke="#8a8a8a" stroke-width="0.55" opacity="1.0" /><path d="M420 5 L428 7.5 L350.5 148 L343 145Z" fill="none" stroke="#f5ef1a" stroke-width="0.7" opacity="1.0" /><path d="M424 6 L346.7 146.5" fill="none" stroke="#f6f2a0" stroke-width="0.5" opacity="0.8" stroke-dasharray="2 2.5"/><path d="M347.5 143.1 L370.4 156.2 L368 171 L365.5 177.5 L354 200.4 L344.2 213.5 L333 222 L328.6 228 L326 230 L327.8 207 L327 195.5 L320.5 192.2 L334.4 167.6Z" fill="#4a4a4a" stroke="none" stroke-width="0.6" opacity="0.85" /><path d="M328.6 222 L333 222 L310 258 L305 258Z" fill="#555555" stroke="none" stroke-width="0.6" opacity="0.7" /><path d="M347.5 143.1 L370.4 156.2 L368 165 L343 152Z" fill="#9a9a9a" stroke="none" stroke-width="0.6" opacity="0.6" /><path d="M347.5 143.1 L320.5 192.2" fill="none" stroke="#d8d25a" stroke-width="0.45" opacity="0.6" /><path d="M370.4 156.2 L350 205" fill="none" stroke="#d8d25a" stroke-width="0.45" opacity="0.6" /><path d="M347.5 143.1 L370.4 156.2" fill="none" stroke="#d8d25a" stroke-width="0.45" opacity="0.6" /><path d="M345 147.6 L368.5 160.6" fill="none" stroke="#d8d25a" stroke-width="0.45" opacity="0.6" /><path d="M342.6 152 L366.7 165.1" fill="none" stroke="#d8d25a" stroke-width="0.45" opacity="0.6" /><path d="M340.1 156.5 L364.8 169.5" fill="none" stroke="#d8d25a" stroke-width="0.45" opacity="0.6" /><path d="M337.7 161 L363 173.9" fill="none" stroke="#d8d25a" stroke-width="0.45" opacity="0.6" /><path d="M335.2 165.4 L361.1 178.4" fill="none" stroke="#d8d25a" stroke-width="0.45" opacity="0.6" /><path d="M332.8 169.9 L359.3 182.8" fill="none" stroke="#d8d25a" stroke-width="0.45" opacity="0.6" /><path d="M330.3 174.3 L357.4 187.3" fill="none" stroke="#d8d25a" stroke-width="0.45" opacity="0.6" /><path d="M327.9 178.8 L355.6 191.7" fill="none" stroke="#d8d25a" stroke-width="0.45" opacity="0.6" /><path d="M325.4 183.3 L353.7 196.1" fill="none" stroke="#d8d25a" stroke-width="0.45" opacity="0.6" /><path d="M323 187.7 L351.9 200.6" fill="none" stroke="#d8d25a" stroke-width="0.45" opacity="0.6" /><path d="M320.5 192.2 L350 205" fill="none" stroke="#d8d25a" stroke-width="0.45" opacity="0.6" /><path d="M347.5 143.1 L370.4 156.2" fill="none" stroke="#d8d25a" stroke-width="0.45" opacity="0.5" /><path d="M320.5 192.2 L350 205" fill="none" stroke="#d8d25a" stroke-width="0.45" opacity="0.5" /><path d="M347.5 143.1 L320.5 192.2" fill="none" stroke="#d8d25a" stroke-width="0.45" opacity="0.5" /><path d="M352.1 145.7 L326.4 194.8" fill="none" stroke="#d8d25a" stroke-width="0.45" opacity="0.5" /><path d="M356.7 148.3 L332.3 197.3" fill="none" stroke="#d8d25a" stroke-width="0.45" opacity="0.5" /><path d="M361.2 151 L338.2 199.9" fill="none" stroke="#d8d25a" stroke-width="0.45" opacity="0.5" /><path d="M365.8 153.6 L344.1 202.4" fill="none" stroke="#d8d25a" stroke-width="0.45" opacity="0.5" /><path d="M370.4 156.2 L350 205" fill="none" stroke="#d8d25a" stroke-width="0.45" opacity="0.5" /><path d="M360.4 200.6 L365.2 218.4" fill="none" stroke="#f2ec1a" stroke-width="1.3" opacity="1.0" /><path d="M358 222 L345.6 246.7" fill="none" stroke="#f2ec1a" stroke-width="1.3" opacity="1.0" /><path d="M372 211 L379 213 L373 227 L367 225Z" fill="none" stroke="#fbf56a" stroke-width="0.5" opacity="1.0" /><path d="M288.4 253.3 L299 274" fill="none" stroke="#4f93e0" stroke-width="0.45" opacity="1.0" /><path d="M288.4 253.3 L312 240" fill="none" stroke="#4f93e0" stroke-width="0.45" opacity="1.0" /><path d="M290.8 252 L301.7 272.9" fill="none" stroke="#4f93e0" stroke-width="0.45" opacity="1.0" /><path d="M289.5 255.4 L313.4 242.3" fill="none" stroke="#4f93e0" stroke-width="0.45" opacity="1.0" /><path d="M293.1 250.6 L304.3 271.9" fill="none" stroke="#4f93e0" stroke-width="0.45" opacity="1.0" /><path d="M290.5 257.4 L314.7 244.7" fill="none" stroke="#4f93e0" stroke-width="0.45" opacity="1.0" /><path d="M295.5 249.3 L307 270.8" fill="none" stroke="#4f93e0" stroke-width="0.45" opacity="1.0" /><path d="M291.6 259.5 L316.1 247" fill="none" stroke="#4f93e0" stroke-width="0.45" opacity="1.0" /><path d="M297.8 248 L309.7 269.7" fill="none" stroke="#4f93e0" stroke-width="0.45" opacity="1.0" /><path d="M292.6 261.6 L317.5 249.3" fill="none" stroke="#4f93e0" stroke-width="0.45" opacity="1.0" /><path d="M300.2 246.7 L312.4 268.6" fill="none" stroke="#4f93e0" stroke-width="0.45" opacity="1.0" /><path d="M293.7 263.6 L318.9 251.7" fill="none" stroke="#4f93e0" stroke-width="0.45" opacity="1.0" /><path d="M302.6 245.3 L315 267.6" fill="none" stroke="#4f93e0" stroke-width="0.45" opacity="1.0" /><path d="M294.8 265.7 L320.2 254" fill="none" stroke="#4f93e0" stroke-width="0.45" opacity="1.0" /><path d="M304.9 244 L317.7 266.5" fill="none" stroke="#4f93e0" stroke-width="0.45" opacity="1.0" /><path d="M295.8 267.8 L321.6 256.3" fill="none" stroke="#4f93e0" stroke-width="0.45" opacity="1.0" /><path d="M307.3 242.7 L320.4 265.4" fill="none" stroke="#4f93e0" stroke-width="0.45" opacity="1.0" /><path d="M296.9 269.9 L323 258.6" fill="none" stroke="#4f93e0" stroke-width="0.45" opacity="1.0" /><path d="M309.6 241.3 L323 264.4" fill="none" stroke="#4f93e0" stroke-width="0.45" opacity="1.0" /><path d="M297.9 271.9 L324.3 261" fill="none" stroke="#4f93e0" stroke-width="0.45" opacity="1.0" /><path d="M312 240 L325.7 263.3" fill="none" stroke="#4f93e0" stroke-width="0.45" opacity="1.0" /><path d="M299 274 L325.7 263.3" fill="none" stroke="#4f93e0" stroke-width="0.45" opacity="1.0" /><path d="M301.5 261.5 L308.5 250.5 L313 253 L306 264.5Z" fill="#e8262a" stroke="none" stroke-width="0.6" opacity="1.0" /><path d="M383.3 122 L355 170 L327 225" fill="none" stroke="#2433f0" stroke-width="1.0" opacity="1" stroke-dasharray="1.6 0.8"/><path d="M355 170 L327 225 L306 258" fill="none" stroke="#2433f0" stroke-width="1.1" opacity="1.0" /><path d="M352 178 L327 225 L306 258" fill="none" stroke="#e8262b" stroke-width="0.8" opacity="0.9" stroke-dasharray="2 2"/><rect x="434" y="9.8" width="7" height="3" fill="#3a3a10" stroke="#e6e24a" stroke-width="0.5"/><text x="437.5" y="12" font-family="DejaVu Sans, sans-serif" font-size="2.6" fill="#e8e44a" text-anchor="middle">label</text><rect x="409.2" y="88.2" width="7" height="3" fill="#3a3a10" stroke="#e6e24a" stroke-width="0.5"/><text x="412.7" y="90.4" font-family="DejaVu Sans, sans-serif" font-size="2.6" fill="#e8e44a" text-anchor="middle">label</text><rect x="387.5" y="99.8" width="7" height="3" fill="#3a3a10" stroke="#e6e24a" stroke-width="0.5"/><text x="391" y="102" font-family="DejaVu Sans, sans-serif" font-size="2.6" fill="#e8e44a" text-anchor="middle">label</text><rect x="396.1" y="108.5" width="7" height="3" fill="#3a3a10" stroke="#e6e24a" stroke-width="0.5"/><text x="399.6" y="110.7" font-family="DejaVu Sans, sans-serif" font-size="2.6" fill="#e8e44a" text-anchor="middle">label</text><rect x="375.8" y="138.4" width="7" height="3" fill="#3a3a10" stroke="#e6e24a" stroke-width="0.5"/><text x="379.3" y="140.6" font-family="DejaVu Sans, sans-serif" font-size="2.6" fill="#e8e44a" text-anchor="middle">label</text><rect x="377.2" y="150" width="7" height="3" fill="#3a3a10" stroke="#e6e24a" stroke-width="0.5"/><text x="380.7" y="152.2" font-family="DejaVu Sans, sans-serif" font-size="2.6" fill="#e8e44a" text-anchor="middle">label</text><rect x="358.5" y="174.5" width="7" height="3" fill="#3a3a10" stroke="#e6e24a" stroke-width="0.5"/><text x="362" y="176.7" font-family="DejaVu Sans, sans-serif" font-size="2.6" fill="#e8e44a" text-anchor="middle">label</text><rect x="341.5" y="181.7" width="7" height="3" fill="#3a3a10" stroke="#e6e24a" stroke-width="0.5"/><text x="345" y="183.9" font-family="DejaVu Sans, sans-serif" font-size="2.6" fill="#e8e44a" text-anchor="middle">label</text><rect x="299" y="216.9" width="7" height="3" fill="#3a3a10" stroke="#e6e24a" stroke-width="0.5"/><text x="302.5" y="219.1" font-family="DejaVu Sans, sans-serif" font-size="2.6" fill="#e8e44a" text-anchor="middle">label</text><rect x="359.5" y="217" width="7" height="3" fill="#3a3a10" stroke="#e6e24a" stroke-width="0.5"/><text x="363" y="219.2" font-family="DejaVu Sans, sans-serif" font-size="2.6" fill="#e8e44a" text-anchor="middle">label</text><rect x="372" y="213.1" width="7" height="3" fill="#3a3a10" stroke="#e6e24a" stroke-width="0.5"/><text x="375.5" y="215.3" font-family="DejaVu Sans, sans-serif" font-size="2.6" fill="#e8e44a" text-anchor="middle">label</text><rect x="394.5" y="103.5" width="7" height="3" fill="#3a3a10" stroke="#e6e24a" stroke-width="0.5"/><text x="398" y="105.7" font-family="DejaVu Sans, sans-serif" font-size="2.6" fill="#e8e44a" text-anchor="middle">label</text><rect x="439.9" y="6.6" width="8.6" height="8.8" rx="1" fill="#161616"/><rect x="439.9" y="18.9" width="8.6" height="27.2" rx="1" fill="#161616"/><path d="M442.4 8.6L442.4 13L443.6 11.8L445.8 11.8Z" fill="none" stroke="#e0e0e0" stroke-width="0.6"/><path d="M442.6 25L442.6 22L445.8 22L445.8 25" fill="none" stroke="#3fb3c8" stroke-width="0.9"/><path d="M442.2 34.5L446 30.7" stroke="#e8e8e8" stroke-width="1.4"/><path d="M442.7 41.5H445.7M444.2 40V43" stroke="#e8e8e8" stroke-width="0.7"/></g>
<text x="113.5" y="303.6" text-anchor="middle" font-family="'Liberation Serif', serif" font-size="15" fill="#111">(<tspan font-size="13.5" font-weight="bold">a</tspan>)</text>
<text x="337" y="303.6" text-anchor="middle" font-family="'Liberation Serif', serif" font-size="15" fill="#111">(<tspan font-size="13.5" font-weight="bold">b</tspan>)</text>
<g stroke="#ececec" stroke-width="0.75"><line x1="62.5" y1="330" x2="62.5" y2="497.3"/><line x1="101.86" y1="330" x2="101.86" y2="497.3"/><line x1="141.22" y1="330" x2="141.22" y2="497.3"/><line x1="180.58" y1="330" x2="180.58" y2="497.3"/><line x1="219.94" y1="330" x2="219.94" y2="497.3"/><line x1="259.3" y1="330" x2="259.3" y2="497.3"/><line x1="37.3" y1="494" x2="262.5" y2="494"/><line x1="37.3" y1="467.45" x2="262.5" y2="467.45"/><line x1="37.3" y1="440.9" x2="262.5" y2="440.9"/><line x1="37.3" y1="414.35" x2="262.5" y2="414.35"/><line x1="37.3" y1="387.8" x2="262.5" y2="387.8"/><line x1="37.3" y1="361.25" x2="262.5" y2="361.25"/><line x1="37.3" y1="334.7" x2="262.5" y2="334.7"/></g>
<path d="M37.3 330V497.3H262.5" fill="none" stroke="#808080" stroke-width="1.1"/>
<g font-family="'DejaVu Sans', 'Liberation Sans', sans-serif" font-size="7.4" fill="#333333" stroke="#333333" stroke-width="0.2"><line x1="62.5" y1="497.3" x2="62.5" y2="495.3" stroke="#808080" stroke-width="0.8"/><text x="62.5" y="505.8" text-anchor="middle">−80</text><line x1="101.86" y1="497.3" x2="101.86" y2="495.3" stroke="#808080" stroke-width="0.8"/><text x="101.86" y="505.8" text-anchor="middle">−70</text><line x1="141.22" y1="497.3" x2="141.22" y2="495.3" stroke="#808080" stroke-width="0.8"/><text x="141.22" y="505.8" text-anchor="middle">−60</text><line x1="180.58" y1="497.3" x2="180.58" y2="495.3" stroke="#808080" stroke-width="0.8"/><text x="180.58" y="505.8" text-anchor="middle">−50</text><line x1="219.94" y1="497.3" x2="219.94" y2="495.3" stroke="#808080" stroke-width="0.8"/><text x="219.94" y="505.8" text-anchor="middle">−40</text><line x1="259.3" y1="497.3" x2="259.3" y2="495.3" stroke="#808080" stroke-width="0.8"/><text x="259.3" y="505.8" text-anchor="middle">−30</text><line x1="37.3" y1="494" x2="39.3" y2="494" stroke="#808080" stroke-width="0.8"/><text x="34.8" y="496.7" text-anchor="end">−20</text><line x1="37.3" y1="467.45" x2="39.3" y2="467.45" stroke="#808080" stroke-width="0.8"/><text x="34.8" y="470.15" text-anchor="end">−15</text><line x1="37.3" y1="440.9" x2="39.3" y2="440.9" stroke="#808080" stroke-width="0.8"/><text x="34.8" y="443.6" text-anchor="end">−10</text><line x1="37.3" y1="414.35" x2="39.3" y2="414.35" stroke="#808080" stroke-width="0.8"/><text x="34.8" y="417.05" text-anchor="end">−5</text><line x1="37.3" y1="387.8" x2="39.3" y2="387.8" stroke="#808080" stroke-width="0.8"/><text x="34.8" y="390.5" text-anchor="end">0</text><line x1="37.3" y1="361.25" x2="39.3" y2="361.25" stroke="#808080" stroke-width="0.8"/><text x="34.8" y="363.95" text-anchor="end">5</text><line x1="37.3" y1="334.7" x2="39.3" y2="334.7" stroke="#808080" stroke-width="0.8"/><text x="34.8" y="337.4" text-anchor="end">10</text></g>
<path d="M46.9 490.3 L49.5 488.43 L52.09 486.57 L54.69 484.7 L57.28 482.83 L59.88 480.95 L62.48 479.07 L65.07 477.18 L67.67 475.29 L70.27 473.39 L72.86 471.48 L75.46 469.56 L78.05 467.63 L80.65 465.69 L83.25 463.73 L85.84 461.77 L88.44 459.79 L91.04 457.79 L93.63 455.78 L96.23 453.76 L98.82 451.72 L101.42 449.66 L104.02 447.59 L106.61 445.49 L109.21 443.39 L111.81 441.28 L114.4 439.16 L117 437.03 L119.59 434.91 L122.19 432.79 L124.79 430.67 L127.38 428.57 L129.98 426.47 L132.57 424.38 L135.17 422.3 L137.77 420.22 L140.36 418.15 L142.96 416.08 L145.56 414.01 L148.15 411.96 L150.75 409.94 L153.34 407.94 L155.94 405.98 L158.54 404.06 L161.13 402.19 L163.73 400.38 L166.33 398.63 L168.92 396.93 L171.52 395.3 L174.11 393.72 L176.71 392.21 L179.31 390.73 L181.9 389.27 L184.5 387.79 L187.09 386.26 L189.69 384.65 L192.29 382.93 L194.88 381.11 L197.48 379.2 L200.08 377.25 L202.67 375.27 L205.27 373.3 L207.86 371.35 L210.46 369.43 L213.06 367.52 L215.65 365.61 L218.25 363.7 L220.85 361.77 L223.44 359.82 L226.04 357.85 L228.63 355.87 L231.23 353.88 L233.83 351.88 L236.42 349.87 L239.02 347.86 L241.62 345.85 L244.21 343.84 L246.81 341.83 L249.4 339.81 L252 337.8" fill="none" stroke="#3535ff" stroke-width="1.2" stroke-linejoin="round"/>
<path d="M46.9 490.3 L48.72 488.99 L50.55 487.68 L52.37 486.36 L54.2 485.05 L56.02 483.73 L57.84 482.42 L59.67 481.1 L61.49 479.78 L63.32 478.46 L65.14 477.13 L66.96 475.8 L68.79 474.47 L70.61 473.13 L72.44 471.79 L74.26 470.45 L76.08 469.1 L77.91 467.74 L79.73 466.38 L81.56 465.02 L83.38 463.65 L85.21 462.28 L87.03 460.9 L88.85 459.51 L90.68 458.13 L92.5 456.73 L94.33 455.33 L96.15 453.93 L97.97 452.52 L99.8 451.11 L101.62 449.69 L103.45 448.26 L105.27 446.83 L107.09 445.4 L108.92 443.96 L110.74 442.52 L112.57 441.07 L114.39 439.63 L116.21 438.18 L118.04 436.73 L119.86 435.28 L121.69 433.83 L123.51 432.38 L125.33 430.93 L127.16 429.49 L128.98 428.04 L130.81 426.6 L132.63 425.17 L134.45 423.73 L136.28 422.3 L138.1 420.87 L139.93 419.45 L141.75 418.04 L143.57 416.63 L145.4 415.23 L147.22 413.83 L149.05 412.45 L150.87 411.08 L152.69 409.71 L154.52 408.36 L156.34 407.03 L158.17 405.71 L159.99 404.41 L161.82 403.12 L163.64 401.85 L165.46 400.6 L167.29 399.36 L169.11 398.14 L170.94 396.94 L172.76 395.74 L174.58 394.57 L176.41 393.4 L178.23 392.25 L180.06 391.11 L181.88 389.98 L183.7 388.85 L185.53 387.73 L187.35 386.62 L189.18 385.51 L191 384.4" fill="none" stroke="#ff1a1a" stroke-width="1.2" stroke-linejoin="round"/>
<rect x="40.7" y="334.4" width="112.5" height="25.9" rx="1.5" fill="#ffffff" fill-opacity="0.85" stroke="#dcdcdc" stroke-width="0.8"/>
<line x1="44" y1="340.8" x2="60" y2="340.8" stroke="#3535ff" stroke-width="1.3"/>
<line x1="44" y1="352.1" x2="60" y2="352.1" stroke="#ff1a1a" stroke-width="1.3"/>
<g font-family="'DejaVu Sans', 'Liberation Sans', sans-serif" font-size="8.1" fill="#333333" stroke="#333333" stroke-width="0.2"><text x="66.8" y="344.45">A* trajectory</text><text x="66.8" y="355.75">Optimized trajectory</text></g>
<text x="149.5" y="516.8" text-anchor="middle" font-family="'DejaVu Sans', 'Liberation Sans', sans-serif" font-size="8.9" fill="#333333" stroke="#333333" stroke-width="0.2">X Position (m)</text>
<text transform="translate(11.4 413.8) rotate(-90)" x="0" y="3.24" text-anchor="middle" font-family="'DejaVu Sans', 'Liberation Sans', sans-serif" font-size="8.9" fill="#333333" stroke="#333333" stroke-width="0.2">Y Position (m)</text>
<text x="135.9" y="542.6" text-anchor="middle" font-family="'Liberation Serif', serif" font-size="15" fill="#111">(<tspan font-size="13.5" font-weight="bold">c</tspan>)</text>
<g stroke="#ececec" stroke-width="0.75"><line x1="42.3" y1="569.5" x2="42.3" y2="745.8"/><line x1="72.2" y1="569.5" x2="72.2" y2="745.8"/><line x1="102.1" y1="569.5" x2="102.1" y2="745.8"/><line x1="132" y1="569.5" x2="132" y2="745.8"/><line x1="161.9" y1="569.5" x2="161.9" y2="745.8"/><line x1="191.8" y1="569.5" x2="191.8" y2="745.8"/><line x1="221.7" y1="569.5" x2="221.7" y2="745.8"/><line x1="251.6" y1="569.5" x2="251.6" y2="745.8"/><line x1="31.5" y1="740.6" x2="267.6" y2="740.6"/><line x1="31.5" y1="719.7" x2="267.6" y2="719.7"/><line x1="31.5" y1="698.8" x2="267.6" y2="698.8"/><line x1="31.5" y1="677.9" x2="267.6" y2="677.9"/><line x1="31.5" y1="657" x2="267.6" y2="657"/><line x1="31.5" y1="636.1" x2="267.6" y2="636.1"/><line x1="31.5" y1="615.2" x2="267.6" y2="615.2"/><line x1="31.5" y1="594.3" x2="267.6" y2="594.3"/><line x1="31.5" y1="573.4" x2="267.6" y2="573.4"/></g>
<path d="M31.5 569.5V745.8H267.6" fill="none" stroke="#808080" stroke-width="1.1"/>
<g font-family="'DejaVu Sans', 'Liberation Sans', sans-serif" font-size="7.8" fill="#333333" stroke="#333333" stroke-width="0.2"><line x1="42.3" y1="745.8" x2="42.3" y2="743.8" stroke="#808080" stroke-width="0.8"/><text x="42.3" y="754.6" text-anchor="middle">0</text><line x1="72.2" y1="745.8" x2="72.2" y2="743.8" stroke="#808080" stroke-width="0.8"/><text x="72.2" y="754.6" text-anchor="middle">1</text><line x1="102.1" y1="745.8" x2="102.1" y2="743.8" stroke="#808080" stroke-width="0.8"/><text x="102.1" y="754.6" text-anchor="middle">2</text><line x1="132" y1="745.8" x2="132" y2="743.8" stroke="#808080" stroke-width="0.8"/><text x="132" y="754.6" text-anchor="middle">3</text><line x1="161.9" y1="745.8" x2="161.9" y2="743.8" stroke="#808080" stroke-width="0.8"/><text x="161.9" y="754.6" text-anchor="middle">4</text><line x1="191.8" y1="745.8" x2="191.8" y2="743.8" stroke="#808080" stroke-width="0.8"/><text x="191.8" y="754.6" text-anchor="middle">5</text><line x1="221.7" y1="745.8" x2="221.7" y2="743.8" stroke="#808080" stroke-width="0.8"/><text x="221.7" y="754.6" text-anchor="middle">6</text><line x1="251.6" y1="745.8" x2="251.6" y2="743.8" stroke="#808080" stroke-width="0.8"/><text x="251.6" y="754.6" text-anchor="middle">7</text><line x1="31.5" y1="740.6" x2="33.5" y2="740.6" stroke="#808080" stroke-width="0.8"/><text x="29.1" y="743.44" text-anchor="end">4</text><line x1="31.5" y1="719.7" x2="33.5" y2="719.7" stroke="#808080" stroke-width="0.8"/><text x="29.1" y="722.54" text-anchor="end">5</text><line x1="31.5" y1="698.8" x2="33.5" y2="698.8" stroke="#808080" stroke-width="0.8"/><text x="29.1" y="701.64" text-anchor="end">6</text><line x1="31.5" y1="677.9" x2="33.5" y2="677.9" stroke="#808080" stroke-width="0.8"/><text x="29.1" y="680.74" text-anchor="end">7</text><line x1="31.5" y1="657" x2="33.5" y2="657" stroke="#808080" stroke-width="0.8"/><text x="29.1" y="659.84" text-anchor="end">8</text><line x1="31.5" y1="636.1" x2="33.5" y2="636.1" stroke="#808080" stroke-width="0.8"/><text x="29.1" y="638.94" text-anchor="end">9</text><line x1="31.5" y1="615.2" x2="33.5" y2="615.2" stroke="#808080" stroke-width="0.8"/><text x="29.1" y="618.04" text-anchor="end">10</text><line x1="31.5" y1="594.3" x2="33.5" y2="594.3" stroke="#808080" stroke-width="0.8"/><text x="29.1" y="597.14" text-anchor="end">11</text><line x1="31.5" y1="573.4" x2="33.5" y2="573.4" stroke="#808080" stroke-width="0.8"/><text x="29.1" y="576.24" text-anchor="end">12</text></g>
<path d="M42.3 578.42 L54.26 577.16 L66.22 579.25 L78.18 585.31 L90.14 592.84 L102.1 605.79 L114.06 621.47 L161.9 672.26 L209.74 695.46 L221.7 704.65 L257.58 737.26" fill="none" stroke="#3535ff" stroke-width="1.3" stroke-linejoin="round"/>
<path d="M42.3 578.42 L43.81 578.47 L45.33 578.53 L46.84 578.6 L48.36 578.71 L49.87 578.84 L51.38 579.02 L52.9 579.26 L54.41 579.55 L55.93 579.91 L57.44 580.36 L58.95 580.88 L60.47 581.48 L61.98 582.15 L63.49 582.87 L65.01 583.63 L66.52 584.44 L68.04 585.27 L69.55 586.12 L71.06 586.97 L72.58 587.82 L74.09 588.67 L75.61 589.51 L77.12 590.35 L78.63 591.18 L80.15 592.02 L81.66 592.86 L83.18 593.7 L84.69 594.56 L86.2 595.42 L87.72 596.3 L89.23 597.2 L90.75 598.11 L92.26 599.04 L93.77 599.99 L95.29 600.95 L96.8 601.94 L98.32 602.96 L99.83 604 L101.34 605.06 L102.86 606.15 L104.37 607.26 L105.88 608.4 L107.4 609.54 L108.91 610.7 L110.43 611.87 L111.94 613.05 L113.45 614.23 L114.97 615.41 L116.48 616.58 L118 617.75 L119.51 618.9 L121.02 620.05 L122.54 621.18 L124.05 622.31 L125.57 623.43 L127.08 624.53 L128.59 625.62 L130.11 626.71 L131.62 627.78 L133.14 628.84 L134.65 629.89 L136.16 630.93 L137.68 631.96 L139.19 632.98 L140.71 633.99 L142.22 634.99 L143.73 635.98 L145.25 636.96 L146.76 637.94 L148.27 638.9 L149.79 639.86 L151.3 640.81 L152.82 641.76 L154.33 642.71 L155.84 643.65 L157.36 644.58 L158.87 645.52 L160.39 646.45 L161.9 647.39" fill="none" stroke="#ff1a1a" stroke-width="1.4" stroke-linejoin="round"/>
<rect x="145.3" y="573.7" width="119.2" height="27.7" rx="1.5" fill="#ffffff" fill-opacity="0.85" stroke="#dcdcdc" stroke-width="0.8"/>
<line x1="149" y1="580.6" x2="166.4" y2="580.6" stroke="#3535ff" stroke-width="1.3"/>
<line x1="149" y1="593.5" x2="166.4" y2="593.5" stroke="#ff1a1a" stroke-width="1.3"/>
<g font-family="'DejaVu Sans', 'Liberation Sans', sans-serif" font-size="8.55" fill="#333333" stroke="#333333" stroke-width="0.2"><text x="173" y="583.72">A* trajectory</text><text x="173" y="596.62">Optimized trajectory</text></g>
<text x="150.5" y="765.6" text-anchor="middle" font-family="'DejaVu Sans', 'Liberation Sans', sans-serif" font-size="9.3" fill="#333333" stroke="#333333" stroke-width="0.2">Time (s)</text>
<text transform="translate(11.8 658.5) rotate(-90)" x="0" y="3.39" text-anchor="middle" font-family="'DejaVu Sans', 'Liberation Sans', sans-serif" font-size="9.3" fill="#333333" stroke="#333333" stroke-width="0.2">Velocity (m/s)</text>
<text x="135.7" y="791.5" text-anchor="middle" font-family="'Liberation Serif', serif" font-size="15" fill="#111">(<tspan font-size="13.5" font-weight="bold">d</tspan>)</text>
<g stroke="#ececec" stroke-width="0.75"><line x1="322.9" y1="580" x2="322.9" y2="747.2"/><line x1="351.15" y1="580" x2="351.15" y2="747.2"/><line x1="379.4" y1="580" x2="379.4" y2="747.2"/><line x1="407.65" y1="580" x2="407.65" y2="747.2"/><line x1="435.9" y1="580" x2="435.9" y2="747.2"/><line x1="464.15" y1="580" x2="464.15" y2="747.2"/><line x1="492.4" y1="580" x2="492.4" y2="747.2"/><line x1="520.65" y1="580" x2="520.65" y2="747.2"/><line x1="312.4" y1="596" x2="536.3" y2="596"/><line x1="312.4" y1="615.1" x2="536.3" y2="615.1"/><line x1="312.4" y1="634.2" x2="536.3" y2="634.2"/><line x1="312.4" y1="653.3" x2="536.3" y2="653.3"/><line x1="312.4" y1="672.4" x2="536.3" y2="672.4"/><line x1="312.4" y1="691.5" x2="536.3" y2="691.5"/><line x1="312.4" y1="710.6" x2="536.3" y2="710.6"/><line x1="312.4" y1="729.7" x2="536.3" y2="729.7"/></g>
<path d="M312.4 580V747.2H536.3" fill="none" stroke="#808080" stroke-width="1.1"/>
<g font-family="'DejaVu Sans', 'Liberation Sans', sans-serif" font-size="7.8" fill="#333333" stroke="#333333" stroke-width="0.2"><line x1="322.9" y1="747.2" x2="322.9" y2="745.2" stroke="#808080" stroke-width="0.8"/><text x="322.9" y="755.5" text-anchor="middle">0</text><line x1="351.15" y1="747.2" x2="351.15" y2="745.2" stroke="#808080" stroke-width="0.8"/><text x="351.15" y="755.5" text-anchor="middle">1</text><line x1="379.4" y1="747.2" x2="379.4" y2="745.2" stroke="#808080" stroke-width="0.8"/><text x="379.4" y="755.5" text-anchor="middle">2</text><line x1="407.65" y1="747.2" x2="407.65" y2="745.2" stroke="#808080" stroke-width="0.8"/><text x="407.65" y="755.5" text-anchor="middle">3</text><line x1="435.9" y1="747.2" x2="435.9" y2="745.2" stroke="#808080" stroke-width="0.8"/><text x="435.9" y="755.5" text-anchor="middle">4</text><line x1="464.15" y1="747.2" x2="464.15" y2="745.2" stroke="#808080" stroke-width="0.8"/><text x="464.15" y="755.5" text-anchor="middle">5</text><line x1="492.4" y1="747.2" x2="492.4" y2="745.2" stroke="#808080" stroke-width="0.8"/><text x="492.4" y="755.5" text-anchor="middle">6</text><line x1="520.65" y1="747.2" x2="520.65" y2="745.2" stroke="#808080" stroke-width="0.8"/><text x="520.65" y="755.5" text-anchor="middle">7</text><line x1="312.4" y1="596" x2="314.4" y2="596" stroke="#808080" stroke-width="0.8"/><text x="310" y="598.84" text-anchor="end">0.00</text><line x1="312.4" y1="615.1" x2="314.4" y2="615.1" stroke="#808080" stroke-width="0.8"/><text x="310" y="617.94" text-anchor="end">−0.25</text><line x1="312.4" y1="634.2" x2="314.4" y2="634.2" stroke="#808080" stroke-width="0.8"/><text x="310" y="637.04" text-anchor="end">−0.50</text><line x1="312.4" y1="653.3" x2="314.4" y2="653.3" stroke="#808080" stroke-width="0.8"/><text x="310" y="656.14" text-anchor="end">−0.75</text><line x1="312.4" y1="672.4" x2="314.4" y2="672.4" stroke="#808080" stroke-width="0.8"/><text x="310" y="675.24" text-anchor="end">−1.00</text><line x1="312.4" y1="691.5" x2="314.4" y2="691.5" stroke="#808080" stroke-width="0.8"/><text x="310" y="694.34" text-anchor="end">−1.25</text><line x1="312.4" y1="710.6" x2="314.4" y2="710.6" stroke="#808080" stroke-width="0.8"/><text x="310" y="713.44" text-anchor="end">−1.50</text><line x1="312.4" y1="729.7" x2="314.4" y2="729.7" stroke="#808080" stroke-width="0.8"/><text x="310" y="732.54" text-anchor="end">−1.75</text></g>
<path d="M322.9 587.98 L328.55 587.98 L334.2 618.16 L339.85 618.16 L345.5 648.72 L351.15 648.72 L356.8 664 L362.45 664 L367.82 739.63 L374.03 739.63 L379.4 724.35 L385.05 724.35 L390.7 709.53 L435.9 709.53 L441.55 648.72 L463.58 648.72 L469.8 678.82 L475.45 678.82 L481.1 693.79 L526.3 693.79" fill="none" stroke="#3535ff" stroke-width="1.3" stroke-linejoin="round"/>
<path d="M322.9 587.98 L324.33 591.68 L325.76 595.37 L327.19 599.03 L328.62 602.66 L330.05 606.25 L331.48 609.78 L332.91 613.25 L334.34 616.64 L335.77 619.94 L337.2 623.13 L338.63 626.23 L340.06 629.21 L341.49 632.1 L342.93 634.9 L344.36 637.61 L345.79 640.24 L347.22 642.8 L348.65 645.28 L350.08 647.7 L351.51 650.07 L352.94 652.37 L354.37 654.61 L355.8 656.78 L357.23 658.86 L358.66 660.85 L360.09 662.74 L361.52 664.51 L362.95 666.17 L364.38 667.7 L365.81 669.08 L367.24 670.33 L368.67 671.44 L370.1 672.42 L371.53 673.27 L372.96 674.01 L374.39 674.63 L375.82 675.14 L377.25 675.54 L378.68 675.85 L380.12 676.07 L381.55 676.2 L382.98 676.25 L384.41 676.22 L385.84 676.13 L387.27 675.96 L388.7 675.73 L390.13 675.44 L391.56 675.08 L392.99 674.67 L394.42 674.2 L395.85 673.68 L397.28 673.11 L398.71 672.48 L400.14 671.81 L401.57 671.1 L403 670.34 L404.43 669.54 L405.86 668.73 L407.29 667.89 L408.72 667.05 L410.15 666.21 L411.58 665.39 L413.01 664.59 L414.44 663.82 L415.87 663.09 L417.31 662.41 L418.74 661.79 L420.17 661.24 L421.6 660.76 L423.03 660.34 L424.46 659.97 L425.89 659.65 L427.32 659.38 L428.75 659.13 L430.18 658.92 L431.61 658.74 L433.04 658.57 L434.47 658.42 L435.9 658.27" fill="none" stroke="#ff1a1a" stroke-width="1.4" stroke-linejoin="round"/>
<rect x="420.9" y="584.6" width="112" height="25.4" rx="1.5" fill="#ffffff" fill-opacity="0.85" stroke="#dcdcdc" stroke-width="0.8"/>
<line x1="424.2" y1="591" x2="440.2" y2="591" stroke="#3535ff" stroke-width="1.3"/>
<line x1="424.2" y1="602.9" x2="440.2" y2="602.9" stroke="#ff1a1a" stroke-width="1.3"/>
<g font-family="'DejaVu Sans', 'Liberation Sans', sans-serif" font-size="8.1" fill="#333333" stroke="#333333" stroke-width="0.2"><text x="446.3" y="593.95">A* trajectory</text><text x="446.3" y="605.85">Optimized trajectory</text></g>
<text x="424" y="765.8" text-anchor="middle" font-family="'DejaVu Sans', 'Liberation Sans', sans-serif" font-size="9.0" fill="#333333" stroke="#333333" stroke-width="0.2">Time (s)</text>
<text transform="translate(279.7 664) rotate(-90)" x="0" y="3.28" text-anchor="middle" font-family="'DejaVu Sans', 'Liberation Sans', sans-serif" font-size="9.0" fill="#333333" stroke="#333333" stroke-width="0.2">Acceleration (m/<tspan font-style="italic">s</tspan><tspan font-size="6.5" dy="-3">2</tspan><tspan dy="3">)</tspan></text>
<text x="403.8" y="791.1" text-anchor="middle" font-family="'Liberation Serif', serif" font-size="15" fill="#111">(<tspan font-size="13.5" font-weight="bold">e</tspan>)</text>
<g stroke="#ececec" stroke-width="0.75"><line x1="49.1" y1="818" x2="49.1" y2="989.6"/><line x1="78.1" y1="818" x2="78.1" y2="989.6"/><line x1="107.1" y1="818" x2="107.1" y2="989.6"/><line x1="136.1" y1="818" x2="136.1" y2="989.6"/><line x1="165.1" y1="818" x2="165.1" y2="989.6"/><line x1="194.1" y1="818" x2="194.1" y2="989.6"/><line x1="223.1" y1="818" x2="223.1" y2="989.6"/><line x1="252.1" y1="818" x2="252.1" y2="989.6"/><line x1="38.9" y1="967.6" x2="268.4" y2="967.6"/><line x1="38.9" y1="944.2" x2="268.4" y2="944.2"/><line x1="38.9" y1="920.8" x2="268.4" y2="920.8"/><line x1="38.9" y1="897.4" x2="268.4" y2="897.4"/><line x1="38.9" y1="874" x2="268.4" y2="874"/><line x1="38.9" y1="850.6" x2="268.4" y2="850.6"/><line x1="38.9" y1="827.2" x2="268.4" y2="827.2"/></g>
<path d="M38.9 818V989.6H268.4" fill="none" stroke="#808080" stroke-width="1.1"/>
<g font-family="'DejaVu Sans', 'Liberation Sans', sans-serif" font-size="7.9" fill="#333333" stroke="#333333" stroke-width="0.2"><line x1="49.1" y1="989.6" x2="49.1" y2="987.6" stroke="#808080" stroke-width="0.8"/><text x="49.1" y="997.8" text-anchor="middle">0</text><line x1="78.1" y1="989.6" x2="78.1" y2="987.6" stroke="#808080" stroke-width="0.8"/><text x="78.1" y="997.8" text-anchor="middle">1</text><line x1="107.1" y1="989.6" x2="107.1" y2="987.6" stroke="#808080" stroke-width="0.8"/><text x="107.1" y="997.8" text-anchor="middle">2</text><line x1="136.1" y1="989.6" x2="136.1" y2="987.6" stroke="#808080" stroke-width="0.8"/><text x="136.1" y="997.8" text-anchor="middle">3</text><line x1="165.1" y1="989.6" x2="165.1" y2="987.6" stroke="#808080" stroke-width="0.8"/><text x="165.1" y="997.8" text-anchor="middle">4</text><line x1="194.1" y1="989.6" x2="194.1" y2="987.6" stroke="#808080" stroke-width="0.8"/><text x="194.1" y="997.8" text-anchor="middle">5</text><line x1="223.1" y1="989.6" x2="223.1" y2="987.6" stroke="#808080" stroke-width="0.8"/><text x="223.1" y="997.8" text-anchor="middle">6</text><line x1="252.1" y1="989.6" x2="252.1" y2="987.6" stroke="#808080" stroke-width="0.8"/><text x="252.1" y="997.8" text-anchor="middle">7</text><line x1="38.9" y1="967.6" x2="40.9" y2="967.6" stroke="#808080" stroke-width="0.8"/><text x="36.3" y="970.48" text-anchor="end">0.42</text><line x1="38.9" y1="944.2" x2="40.9" y2="944.2" stroke="#808080" stroke-width="0.8"/><text x="36.3" y="947.08" text-anchor="end">0.44</text><line x1="38.9" y1="920.8" x2="40.9" y2="920.8" stroke="#808080" stroke-width="0.8"/><text x="36.3" y="923.68" text-anchor="end">0.46</text><line x1="38.9" y1="897.4" x2="40.9" y2="897.4" stroke="#808080" stroke-width="0.8"/><text x="36.3" y="900.28" text-anchor="end">0.48</text><line x1="38.9" y1="874" x2="40.9" y2="874" stroke="#808080" stroke-width="0.8"/><text x="36.3" y="876.88" text-anchor="end">0.50</text><line x1="38.9" y1="850.6" x2="40.9" y2="850.6" stroke="#808080" stroke-width="0.8"/><text x="36.3" y="853.48" text-anchor="end">0.52</text><line x1="38.9" y1="827.2" x2="40.9" y2="827.2" stroke="#808080" stroke-width="0.8"/><text x="36.3" y="830.08" text-anchor="end">0.54</text></g>
<path d="M49.1 875.52 L59.25 873.77 L83.03 842.53 L95.79 839.25 L106.52 839.25 L118.41 851.65 L129.72 851.65 L153.79 978.6 L170.03 924.19 L176.99 900.21 L211.5 826.15 L257.9 826.15" fill="none" stroke="#3535ff" stroke-width="1.3" stroke-linejoin="round"/>
<path d="M49.1 875.75 L50.57 875.77 L52.04 875.72 L53.51 875.54 L54.97 875.17 L56.44 874.54 L57.91 873.61 L59.38 872.41 L60.85 870.98 L62.32 869.35 L63.78 867.58 L65.25 865.7 L66.72 863.76 L68.19 861.79 L69.66 859.82 L71.13 857.88 L72.59 855.99 L74.06 854.18 L75.53 852.48 L77 850.91 L78.47 849.51 L79.94 848.29 L81.4 847.29 L82.87 846.53 L84.34 846.04 L85.81 845.82 L87.28 845.87 L88.75 846.16 L90.21 846.67 L91.68 847.38 L93.15 848.27 L94.62 849.32 L96.09 850.51 L97.56 851.82 L99.02 853.25 L100.49 854.79 L101.96 856.43 L103.43 858.17 L104.9 860 L106.37 861.9 L107.83 863.88 L109.3 865.92 L110.77 867.98 L112.24 870.05 L113.71 872.1 L115.18 874.11 L116.64 876.04 L118.11 877.88 L119.58 879.64 L121.05 881.3 L122.52 882.88 L123.99 884.36 L125.45 885.75 L126.92 887.04 L128.39 888.22 L129.86 889.31 L131.33 890.29 L132.8 891.17 L134.26 891.93 L135.73 892.59 L137.2 893.13 L138.67 893.57 L140.14 893.9 L141.61 894.14 L143.07 894.29 L144.54 894.37 L146.01 894.38 L147.48 894.33 L148.95 894.23 L150.42 894.08 L151.88 893.89 L153.35 893.67 L154.82 893.4 L156.29 893.11 L157.76 892.79 L159.23 892.45 L160.69 892.1 L162.16 891.73 L163.63 891.35 L165.1 890.96" fill="none" stroke="#ff1a1a" stroke-width="1.4" stroke-linejoin="round"/>
<rect x="42.7" y="958.9" width="114" height="24.1" rx="1.5" fill="#ffffff" fill-opacity="0.85" stroke="#dcdcdc" stroke-width="0.8"/>
<line x1="45.6" y1="966.2" x2="63" y2="966.2" stroke="#3535ff" stroke-width="1.3"/>
<line x1="45.6" y1="977.8" x2="63" y2="977.8" stroke="#ff1a1a" stroke-width="1.3"/>
<g font-family="'DejaVu Sans', 'Liberation Sans', sans-serif" font-size="8.2" fill="#333333" stroke="#333333" stroke-width="0.2"><text x="68.9" y="969.19">A* trajectory</text><text x="68.9" y="980.79">Optimized trajectory</text></g>
<text x="153.4" y="1009" text-anchor="middle" font-family="'DejaVu Sans', 'Liberation Sans', sans-serif" font-size="9.1" fill="#333333" stroke="#333333" stroke-width="0.2">Time (s)</text>
<text transform="translate(12 904) rotate(-90)" x="0" y="3.32" text-anchor="middle" font-family="'DejaVu Sans', 'Liberation Sans', sans-serif" font-size="9.1" fill="#333333" stroke="#333333" stroke-width="0.2">Heading (radians)</text>
<text x="135.9" y="1034.9" text-anchor="middle" font-family="'Liberation Serif', serif" font-size="15" fill="#111">(<tspan font-size="13.5" font-weight="bold">f</tspan>)</text>
<g stroke="#ececec" stroke-width="0.75"><line x1="322.8" y1="823.3" x2="322.8" y2="989.8"/><line x1="351.05" y1="823.3" x2="351.05" y2="989.8"/><line x1="379.3" y1="823.3" x2="379.3" y2="989.8"/><line x1="407.55" y1="823.3" x2="407.55" y2="989.8"/><line x1="435.8" y1="823.3" x2="435.8" y2="989.8"/><line x1="464.05" y1="823.3" x2="464.05" y2="989.8"/><line x1="492.3" y1="823.3" x2="492.3" y2="989.8"/><line x1="520.55" y1="823.3" x2="520.55" y2="989.8"/><line x1="313" y1="968.4" x2="536.5" y2="968.4"/><line x1="313" y1="931.8" x2="536.5" y2="931.8"/><line x1="313" y1="895.2" x2="536.5" y2="895.2"/><line x1="313" y1="858.6" x2="536.5" y2="858.6"/></g>
<path d="M313 823.3V989.8H536.5" fill="none" stroke="#808080" stroke-width="1.1"/>
<g font-family="'DejaVu Sans', 'Liberation Sans', sans-serif" font-size="7.8" fill="#333333" stroke="#333333" stroke-width="0.2"><line x1="322.8" y1="989.8" x2="322.8" y2="987.8" stroke="#808080" stroke-width="0.8"/><text x="322.8" y="998.5" text-anchor="middle">0</text><line x1="351.05" y1="989.8" x2="351.05" y2="987.8" stroke="#808080" stroke-width="0.8"/><text x="351.05" y="998.5" text-anchor="middle">1</text><line x1="379.3" y1="989.8" x2="379.3" y2="987.8" stroke="#808080" stroke-width="0.8"/><text x="379.3" y="998.5" text-anchor="middle">2</text><line x1="407.55" y1="989.8" x2="407.55" y2="987.8" stroke="#808080" stroke-width="0.8"/><text x="407.55" y="998.5" text-anchor="middle">3</text><line x1="435.8" y1="989.8" x2="435.8" y2="987.8" stroke="#808080" stroke-width="0.8"/><text x="435.8" y="998.5" text-anchor="middle">4</text><line x1="464.05" y1="989.8" x2="464.05" y2="987.8" stroke="#808080" stroke-width="0.8"/><text x="464.05" y="998.5" text-anchor="middle">5</text><line x1="492.3" y1="989.8" x2="492.3" y2="987.8" stroke="#808080" stroke-width="0.8"/><text x="492.3" y="998.5" text-anchor="middle">6</text><line x1="520.55" y1="989.8" x2="520.55" y2="987.8" stroke="#808080" stroke-width="0.8"/><text x="520.55" y="998.5" text-anchor="middle">7</text><line x1="313" y1="968.4" x2="315" y2="968.4" stroke="#808080" stroke-width="0.8"/><text x="310" y="971.24" text-anchor="end">−0.04</text><line x1="313" y1="931.8" x2="315" y2="931.8" stroke="#808080" stroke-width="0.8"/><text x="310" y="934.64" text-anchor="end">−0.02</text><line x1="313" y1="895.2" x2="315" y2="895.2" stroke="#808080" stroke-width="0.8"/><text x="310" y="898.04" text-anchor="end">0.00</text><line x1="313" y1="858.6" x2="315" y2="858.6" stroke="#808080" stroke-width="0.8"/><text x="310" y="861.44" text-anchor="end">0.02</text></g>
<path d="M322.8 891.72 L328.17 891.72 L334.1 879.65 L351.05 879.65 L356.42 891.72 L362.92 891.72 L367.72 895.2 L373.93 895.2 L379.3 909.66 L384.95 909.66 L390.88 895.2 L396.25 895.2 L401.9 983.22 L418.57 983.22 L424.78 830.78 L441.73 830.78 L447.1 853.29 L464.62 853.29 L470.26 895.2 L526.2 895.2" fill="none" stroke="#3535ff" stroke-width="1.3" stroke-linejoin="round"/>
<path d="M322.8 891.72 L324.23 890.05 L325.66 888.4 L327.09 886.81 L328.52 885.31 L329.95 883.92 L331.38 882.67 L332.81 881.59 L334.24 880.69 L335.67 880 L337.1 879.53 L338.53 879.3 L339.96 879.32 L341.39 879.59 L342.83 880.1 L344.26 880.82 L345.69 881.75 L347.12 882.87 L348.55 884.16 L349.98 885.61 L351.41 887.17 L352.84 888.83 L354.27 890.53 L355.7 892.26 L357.13 893.97 L358.56 895.64 L359.99 897.25 L361.42 898.8 L362.85 900.28 L364.28 901.71 L365.71 903.07 L367.14 904.36 L368.57 905.59 L370 906.75 L371.43 907.84 L372.86 908.85 L374.29 909.77 L375.72 910.6 L377.15 911.32 L378.58 911.92 L380.02 912.39 L381.45 912.73 L382.88 912.92 L384.31 912.95 L385.74 912.83 L387.17 912.55 L388.6 912.13 L390.03 911.59 L391.46 910.94 L392.89 910.21 L394.32 909.4 L395.75 908.53 L397.18 907.61 L398.61 906.66 L400.04 905.7 L401.47 904.73 L402.9 903.75 L404.33 902.78 L405.76 901.82 L407.19 900.87 L408.62 899.95 L410.05 899.06 L411.48 898.2 L412.91 897.38 L414.34 896.6 L415.77 895.87 L417.21 895.19 L418.64 894.57 L420.07 894 L421.5 893.5 L422.93 893.07 L424.36 892.71 L425.79 892.41 L427.22 892.16 L428.65 891.95 L430.08 891.79 L431.51 891.65 L432.94 891.54 L434.37 891.45 L435.8 891.36" fill="none" stroke="#ff1a1a" stroke-width="1.4" stroke-linejoin="round"/>
<rect x="420.7" y="960.4" width="112" height="25.4" rx="1.5" fill="#ffffff" fill-opacity="0.85" stroke="#dcdcdc" stroke-width="0.8"/>
<line x1="424" y1="966.7" x2="440.5" y2="966.7" stroke="#3535ff" stroke-width="1.3"/>
<line x1="424" y1="978.7" x2="440.5" y2="978.7" stroke="#ff1a1a" stroke-width="1.3"/>
<g font-family="'DejaVu Sans', 'Liberation Sans', sans-serif" font-size="8.1" fill="#333333" stroke="#333333" stroke-width="0.2"><text x="446.1" y="969.65">A* trajectory</text><text x="446.1" y="981.65">Optimized trajectory</text></g>
<text x="424" y="1008" text-anchor="middle" font-family="'DejaVu Sans', 'Liberation Sans', sans-serif" font-size="9.0" fill="#333333" stroke="#333333" stroke-width="0.2">Time (s)</text>
<text transform="translate(280 907) rotate(-90)" x="0" y="3.28" text-anchor="middle" font-family="'DejaVu Sans', 'Liberation Sans', sans-serif" font-size="9.0" fill="#333333" stroke="#333333" stroke-width="0.2">Front Wheel Angle (radians)</text>
<text x="404.3" y="1034.3" text-anchor="middle" font-family="'Liberation Serif', serif" font-size="15" fill="#111">(<tspan font-size="13.5" font-weight="bold">g</tspan>)</text>
</svg></body></html>
